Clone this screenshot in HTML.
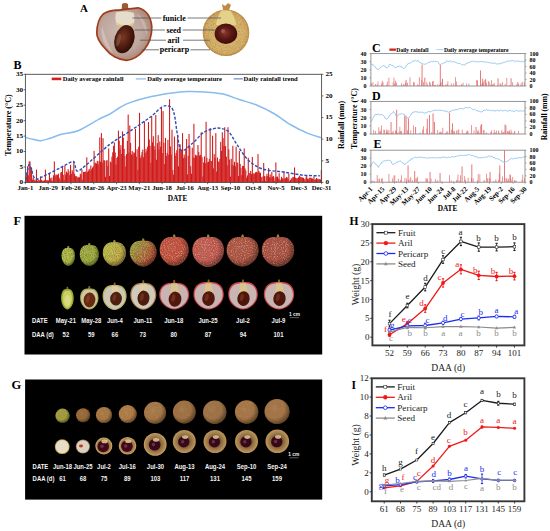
<!DOCTYPE html>
<html><head><meta charset="utf-8"><style>
html,body{margin:0;padding:0;background:#fff;}
svg{display:block;}
</style></head><body>
<svg width="550" height="531" viewBox="0 0 550 531">
<rect x="0" y="0" width="550" height="531" fill="#fff"/>
<text x="80.00" y="11.80" font-family='"Liberation Serif", serif' font-size="11" font-weight="bold" text-anchor="start" fill="#000" >A</text>
<defs>
<radialGradient id="lyFlesh" cx="0.45" cy="0.45" r="0.6">
 <stop offset="0" stop-color="#ccbab2"/><stop offset="0.65" stop-color="#bea69c"/><stop offset="1" stop-color="#a88070"/>
</radialGradient>
<radialGradient id="lySeed" cx="0.4" cy="0.45" r="0.6">
 <stop offset="0" stop-color="#7a3a22"/><stop offset="0.6" stop-color="#4e1c10"/><stop offset="1" stop-color="#2e0c06"/>
</radialGradient>
<radialGradient id="lgFlesh" cx="0.5" cy="0.5" r="0.55">
 <stop offset="0" stop-color="#dcc07a"/><stop offset="0.8" stop-color="#d6b068"/><stop offset="1" stop-color="#c49450"/>
</radialGradient>
<radialGradient id="lgSeed" cx="0.45" cy="0.45" r="0.6">
 <stop offset="0" stop-color="#8a3a30"/><stop offset="0.5" stop-color="#5a1812"/><stop offset="1" stop-color="#3a0a06"/>
</radialGradient>
</defs>
<path d="M122,4 Q125,1.8 128,4 L128.5,11.5 L121.5,11.5 Z" fill="#9a5a34"/>
<path d="M116,10.2 C124,10 130,8.5 138,7.8 C146,10 151,17 151.8,26.8 C152,36 149,44 144,50 C139,56 132,60 126.5,60.3 C118,60 110,55 105.5,49 C100,43 96.5,38 96.8,32.7 C97,24 99,18 103.2,14 C107,11.5 111,10.5 116,10.2 Z" fill="url(#lyFlesh)" stroke="#a03c1c" stroke-width="1.7"/>
<path d="M102,26 C100,36 104,47 113,53 C108,45 105,36 102,26 Z" fill="#ddd0cc" opacity="0.55"/>
<path d="M137,14 C144,18 148,26 147,36 C145,30 141,20 137,14 Z" fill="#d8c8c4" opacity="0.5"/>
<path d="M116,12.5 C121,11 129,11 133.5,13 C135,17 135,22 132.5,25.2 C127,26.5 121,26.5 117,25 C115,21 115,16 116,12.5 Z" fill="#e6dccc"/>
<path d="M117,22.5 C121,26 129,26.5 133,22.5 C133,25.5 130,27.5 125,27.5 C120.5,27.5 117.5,25.5 117,22.5 Z" fill="#dcc478"/>
<ellipse cx="124.4" cy="39.2" rx="9.8" ry="14.4" transform="rotate(17 124.4 39.2)" fill="url(#lySeed)"/>
<ellipse cx="118.6" cy="40" rx="2" ry="6.5" transform="rotate(14 118.6 40)" fill="#9a6a5a" opacity="0.45"/>
<path d="M222,4 L225,6 L228,3 L231,5 L229,10 L223,10 Z" fill="#c08a48"/>
<circle cx="226" cy="32.8" r="22.6" fill="url(#lgFlesh)" stroke="#c4944c" stroke-width="1.4" filter="url(#speck2)"/>
<path d="M221,10.5 C224,10 228,10 231,11 C233,16 236,20 236,25 L216,25 C216,20 219,15 221,10.5 Z" fill="#e8d890" opacity="0.85"/>
<ellipse cx="225.9" cy="33.8" rx="11.3" ry="10.2" fill="url(#lgSeed)"/>
<circle cx="223" cy="31" r="2" fill="#b88a80" opacity="0.5"/>
<text x="162.70" y="20.60" font-family='"Liberation Serif", serif' font-size="8" font-weight="bold" text-anchor="start" fill="#000" >funicle</text>
<line x1="132.50" y1="18.00" x2="161.50" y2="18.00" stroke="#555" stroke-width="0.8" />
<line x1="187.50" y1="18.00" x2="221.00" y2="18.00" stroke="#555" stroke-width="0.8" />
<text x="166.40" y="32.60" font-family='"Liberation Serif", serif' font-size="8" font-weight="bold" text-anchor="start" fill="#000" >seed</text>
<line x1="134.50" y1="30.00" x2="165.00" y2="30.00" stroke="#555" stroke-width="0.8" />
<line x1="182.70" y1="30.00" x2="216.50" y2="30.00" stroke="#555" stroke-width="0.8" />
<text x="167.50" y="42.80" font-family='"Liberation Serif", serif' font-size="8" font-weight="bold" text-anchor="start" fill="#000" >aril</text>
<line x1="140.00" y1="40.20" x2="166.00" y2="40.20" stroke="#555" stroke-width="0.8" />
<line x1="183.00" y1="40.20" x2="210.00" y2="40.20" stroke="#555" stroke-width="0.8" />
<text x="159.80" y="52.40" font-family='"Liberation Serif", serif' font-size="8" font-weight="bold" text-anchor="start" fill="#000" >pericarp</text>
<line x1="141.80" y1="49.80" x2="159.00" y2="49.80" stroke="#555" stroke-width="0.8" />
<line x1="190.40" y1="49.80" x2="210.00" y2="49.80" stroke="#555" stroke-width="0.8" />
<text x="13.60" y="68.70" font-family='"Liberation Serif", serif' font-size="12" font-weight="bold" text-anchor="start" fill="#000" >B</text>
<g><rect x="25.40" y="176.40" width="1.055" height="6.00" fill="#d01a1a"/><rect x="26.21" y="173.81" width="1.055" height="8.59" fill="#d01a1a"/><rect x="27.02" y="166.34" width="1.055" height="16.06" fill="#d01a1a"/><rect x="27.83" y="175.29" width="1.055" height="7.11" fill="#d01a1a"/><rect x="28.65" y="161.40" width="1.055" height="21.00" fill="#d01a1a"/><rect x="29.46" y="161.40" width="1.055" height="21.00" fill="#d01a1a"/><rect x="30.27" y="167.25" width="1.055" height="15.15" fill="#d01a1a"/><rect x="31.08" y="167.60" width="1.055" height="14.80" fill="#d01a1a"/><rect x="31.89" y="179.73" width="1.055" height="2.67" fill="#d01a1a"/><rect x="32.70" y="177.41" width="1.055" height="4.99" fill="#d01a1a"/><rect x="33.52" y="179.57" width="1.055" height="2.83" fill="#d01a1a"/><rect x="34.33" y="180.13" width="1.055" height="2.27" fill="#d01a1a"/><rect x="35.14" y="180.66" width="1.055" height="1.74" fill="#d01a1a"/><rect x="35.95" y="169.60" width="1.055" height="12.80" fill="#d01a1a"/><rect x="36.76" y="180.83" width="1.055" height="1.57" fill="#d01a1a"/><rect x="37.57" y="180.15" width="1.055" height="2.25" fill="#d01a1a"/><rect x="38.38" y="180.02" width="1.055" height="2.38" fill="#d01a1a"/><rect x="39.20" y="180.27" width="1.055" height="2.13" fill="#d01a1a"/><rect x="40.01" y="176.40" width="1.055" height="6.00" fill="#d01a1a"/><rect x="40.82" y="179.89" width="1.055" height="2.51" fill="#d01a1a"/><rect x="41.63" y="180.57" width="1.055" height="1.83" fill="#d01a1a"/><rect x="42.44" y="180.69" width="1.055" height="1.71" fill="#d01a1a"/><rect x="43.25" y="180.77" width="1.055" height="1.63" fill="#d01a1a"/><rect x="44.06" y="180.14" width="1.055" height="2.26" fill="#d01a1a"/><rect x="44.88" y="169.60" width="1.055" height="12.80" fill="#d01a1a"/><rect x="45.69" y="180.42" width="1.055" height="1.98" fill="#d01a1a"/><rect x="46.50" y="180.19" width="1.055" height="2.21" fill="#d01a1a"/><rect x="47.31" y="180.15" width="1.055" height="2.25" fill="#d01a1a"/><rect x="48.12" y="180.40" width="1.055" height="2.00" fill="#d01a1a"/><rect x="48.93" y="173.70" width="1.055" height="8.70" fill="#d01a1a"/><rect x="49.75" y="178.10" width="1.055" height="4.30" fill="#d01a1a"/><rect x="50.56" y="180.15" width="1.055" height="2.25" fill="#d01a1a"/><rect x="51.37" y="177.54" width="1.055" height="4.86" fill="#d01a1a"/><rect x="52.18" y="181.21" width="1.055" height="1.19" fill="#d01a1a"/><rect x="52.99" y="175.34" width="1.055" height="7.06" fill="#d01a1a"/><rect x="53.80" y="161.40" width="1.055" height="21.00" fill="#d01a1a"/><rect x="54.61" y="174.51" width="1.055" height="7.89" fill="#d01a1a"/><rect x="55.43" y="176.26" width="1.055" height="6.14" fill="#d01a1a"/><rect x="56.24" y="174.49" width="1.055" height="7.91" fill="#d01a1a"/><rect x="57.05" y="175.00" width="1.055" height="7.40" fill="#d01a1a"/><rect x="57.86" y="173.59" width="1.055" height="8.81" fill="#d01a1a"/><rect x="58.67" y="177.73" width="1.055" height="4.67" fill="#d01a1a"/><rect x="59.48" y="179.60" width="1.055" height="2.80" fill="#d01a1a"/><rect x="60.29" y="172.43" width="1.055" height="9.97" fill="#d01a1a"/><rect x="61.11" y="172.02" width="1.055" height="10.38" fill="#d01a1a"/><rect x="61.92" y="166.80" width="1.055" height="15.60" fill="#d01a1a"/><rect x="62.73" y="174.77" width="1.055" height="7.63" fill="#d01a1a"/><rect x="63.54" y="179.79" width="1.055" height="2.61" fill="#d01a1a"/><rect x="64.35" y="165.50" width="1.055" height="16.90" fill="#d01a1a"/><rect x="65.16" y="174.59" width="1.055" height="7.81" fill="#d01a1a"/><rect x="65.98" y="171.62" width="1.055" height="10.78" fill="#d01a1a"/><rect x="66.79" y="172.97" width="1.055" height="9.43" fill="#d01a1a"/><rect x="67.60" y="169.16" width="1.055" height="13.24" fill="#d01a1a"/><rect x="68.41" y="171.23" width="1.055" height="11.17" fill="#d01a1a"/><rect x="69.22" y="175.25" width="1.055" height="7.15" fill="#d01a1a"/><rect x="70.03" y="164.80" width="1.055" height="17.60" fill="#d01a1a"/><rect x="70.84" y="173.71" width="1.055" height="8.69" fill="#d01a1a"/><rect x="71.66" y="170.16" width="1.055" height="12.24" fill="#d01a1a"/><rect x="72.47" y="172.03" width="1.055" height="10.37" fill="#d01a1a"/><rect x="73.28" y="162.00" width="1.055" height="20.40" fill="#d01a1a"/><rect x="74.09" y="173.87" width="1.055" height="8.53" fill="#d01a1a"/><rect x="74.90" y="176.23" width="1.055" height="6.17" fill="#d01a1a"/><rect x="75.71" y="175.96" width="1.055" height="6.44" fill="#d01a1a"/><rect x="76.52" y="177.97" width="1.055" height="4.43" fill="#d01a1a"/><rect x="77.34" y="176.76" width="1.055" height="5.64" fill="#d01a1a"/><rect x="78.15" y="177.38" width="1.055" height="5.02" fill="#d01a1a"/><rect x="78.96" y="177.30" width="1.055" height="5.10" fill="#d01a1a"/><rect x="79.77" y="173.75" width="1.055" height="8.65" fill="#d01a1a"/><rect x="80.58" y="174.40" width="1.055" height="8.00" fill="#d01a1a"/><rect x="81.39" y="169.60" width="1.055" height="12.80" fill="#d01a1a"/><rect x="82.21" y="179.63" width="1.055" height="2.77" fill="#d01a1a"/><rect x="83.02" y="171.88" width="1.055" height="10.52" fill="#d01a1a"/><rect x="83.83" y="171.89" width="1.055" height="10.51" fill="#d01a1a"/><rect x="84.64" y="171.98" width="1.055" height="10.42" fill="#d01a1a"/><rect x="85.45" y="171.30" width="1.055" height="11.10" fill="#d01a1a"/><rect x="86.26" y="157.30" width="1.055" height="25.10" fill="#d01a1a"/><rect x="87.07" y="172.08" width="1.055" height="10.32" fill="#d01a1a"/><rect x="87.89" y="170.61" width="1.055" height="11.79" fill="#d01a1a"/><rect x="88.70" y="168.78" width="1.055" height="13.62" fill="#d01a1a"/><rect x="89.51" y="170.57" width="1.055" height="11.83" fill="#d01a1a"/><rect x="90.32" y="165.50" width="1.055" height="16.90" fill="#d01a1a"/><rect x="91.13" y="169.34" width="1.055" height="13.06" fill="#d01a1a"/><rect x="91.94" y="167.62" width="1.055" height="14.78" fill="#d01a1a"/><rect x="92.76" y="166.38" width="1.055" height="16.02" fill="#d01a1a"/><rect x="93.57" y="150.90" width="1.055" height="31.50" fill="#d01a1a"/><rect x="94.38" y="163.38" width="1.055" height="19.02" fill="#d01a1a"/><rect x="95.19" y="162.62" width="1.055" height="19.78" fill="#d01a1a"/><rect x="96.00" y="163.64" width="1.055" height="18.76" fill="#d01a1a"/><rect x="96.81" y="160.85" width="1.055" height="21.55" fill="#d01a1a"/><rect x="97.62" y="164.45" width="1.055" height="17.95" fill="#d01a1a"/><rect x="98.44" y="161.22" width="1.055" height="21.18" fill="#d01a1a"/><rect x="99.25" y="137.40" width="1.055" height="45.00" fill="#d01a1a"/><rect x="100.06" y="161.70" width="1.055" height="20.70" fill="#d01a1a"/><rect x="100.87" y="133.10" width="1.055" height="49.30" fill="#d01a1a"/><rect x="101.68" y="162.60" width="1.055" height="19.80" fill="#d01a1a"/><rect x="102.49" y="138.20" width="1.055" height="44.20" fill="#d01a1a"/><rect x="103.30" y="160.15" width="1.055" height="22.25" fill="#d01a1a"/><rect x="104.12" y="160.46" width="1.055" height="21.94" fill="#d01a1a"/><rect x="104.93" y="176.88" width="1.055" height="5.52" fill="#d01a1a"/><rect x="105.74" y="160.71" width="1.055" height="21.69" fill="#d01a1a"/><rect x="106.55" y="160.09" width="1.055" height="22.31" fill="#d01a1a"/><rect x="107.36" y="166.10" width="1.055" height="16.30" fill="#d01a1a"/><rect x="108.17" y="148.40" width="1.055" height="34.00" fill="#d01a1a"/><rect x="108.99" y="176.02" width="1.055" height="6.38" fill="#d01a1a"/><rect x="109.80" y="161.50" width="1.055" height="20.90" fill="#d01a1a"/><rect x="110.61" y="162.51" width="1.055" height="19.89" fill="#d01a1a"/><rect x="111.42" y="156.60" width="1.055" height="25.80" fill="#d01a1a"/><rect x="112.23" y="152.29" width="1.055" height="30.11" fill="#d01a1a"/><rect x="113.04" y="146.09" width="1.055" height="36.31" fill="#d01a1a"/><rect x="113.85" y="142.50" width="1.055" height="39.90" fill="#d01a1a"/><rect x="114.67" y="152.50" width="1.055" height="29.90" fill="#d01a1a"/><rect x="115.48" y="164.54" width="1.055" height="17.86" fill="#d01a1a"/><rect x="116.29" y="157.97" width="1.055" height="24.43" fill="#d01a1a"/><rect x="117.10" y="156.61" width="1.055" height="25.79" fill="#d01a1a"/><rect x="117.91" y="130.60" width="1.055" height="51.80" fill="#d01a1a"/><rect x="118.72" y="140.57" width="1.055" height="41.83" fill="#d01a1a"/><rect x="119.53" y="149.69" width="1.055" height="32.71" fill="#d01a1a"/><rect x="120.35" y="145.18" width="1.055" height="37.22" fill="#d01a1a"/><rect x="121.16" y="153.92" width="1.055" height="28.48" fill="#d01a1a"/><rect x="121.97" y="131.40" width="1.055" height="51.00" fill="#d01a1a"/><rect x="122.78" y="137.51" width="1.055" height="44.89" fill="#d01a1a"/><rect x="123.59" y="148.78" width="1.055" height="33.62" fill="#d01a1a"/><rect x="124.40" y="155.88" width="1.055" height="26.52" fill="#d01a1a"/><rect x="125.22" y="166.49" width="1.055" height="15.91" fill="#d01a1a"/><rect x="126.03" y="154.06" width="1.055" height="28.34" fill="#d01a1a"/><rect x="126.84" y="140.87" width="1.055" height="41.53" fill="#d01a1a"/><rect x="127.65" y="114.50" width="1.055" height="67.90" fill="#d01a1a"/><rect x="128.46" y="152.65" width="1.055" height="29.75" fill="#d01a1a"/><rect x="129.27" y="125.50" width="1.055" height="56.90" fill="#d01a1a"/><rect x="130.08" y="142.94" width="1.055" height="39.46" fill="#d01a1a"/><rect x="130.90" y="154.54" width="1.055" height="27.86" fill="#d01a1a"/><rect x="131.71" y="151.08" width="1.055" height="31.32" fill="#d01a1a"/><rect x="132.52" y="154.47" width="1.055" height="27.93" fill="#d01a1a"/><rect x="133.33" y="152.17" width="1.055" height="30.23" fill="#d01a1a"/><rect x="134.14" y="152.91" width="1.055" height="29.49" fill="#d01a1a"/><rect x="134.95" y="128.90" width="1.055" height="53.50" fill="#d01a1a"/><rect x="135.76" y="156.71" width="1.055" height="25.69" fill="#d01a1a"/><rect x="136.58" y="149.21" width="1.055" height="33.19" fill="#d01a1a"/><rect x="137.39" y="169.92" width="1.055" height="12.48" fill="#d01a1a"/><rect x="138.20" y="146.64" width="1.055" height="35.76" fill="#d01a1a"/><rect x="139.01" y="112.80" width="1.055" height="69.60" fill="#d01a1a"/><rect x="139.82" y="157.94" width="1.055" height="24.46" fill="#d01a1a"/><rect x="140.63" y="155.41" width="1.055" height="26.99" fill="#d01a1a"/><rect x="141.45" y="152.13" width="1.055" height="30.27" fill="#d01a1a"/><rect x="142.26" y="149.62" width="1.055" height="32.78" fill="#d01a1a"/><rect x="143.07" y="157.25" width="1.055" height="25.15" fill="#d01a1a"/><rect x="143.88" y="121.30" width="1.055" height="61.10" fill="#d01a1a"/><rect x="144.69" y="152.73" width="1.055" height="29.67" fill="#d01a1a"/><rect x="145.50" y="148.86" width="1.055" height="33.54" fill="#d01a1a"/><rect x="146.31" y="151.28" width="1.055" height="31.12" fill="#d01a1a"/><rect x="147.13" y="146.64" width="1.055" height="35.76" fill="#d01a1a"/><rect x="147.94" y="122.10" width="1.055" height="60.30" fill="#d01a1a"/><rect x="148.75" y="139.45" width="1.055" height="42.95" fill="#d01a1a"/><rect x="149.56" y="145.76" width="1.055" height="36.64" fill="#d01a1a"/><rect x="150.37" y="162.85" width="1.055" height="19.55" fill="#d01a1a"/><rect x="151.18" y="116.20" width="1.055" height="66.20" fill="#d01a1a"/><rect x="152.00" y="142.36" width="1.055" height="40.04" fill="#d01a1a"/><rect x="152.81" y="136.19" width="1.055" height="46.21" fill="#d01a1a"/><rect x="153.62" y="146.06" width="1.055" height="36.34" fill="#d01a1a"/><rect x="154.43" y="149.56" width="1.055" height="32.84" fill="#d01a1a"/><rect x="155.24" y="115.00" width="1.055" height="67.40" fill="#d01a1a"/><rect x="156.05" y="159.79" width="1.055" height="22.61" fill="#d01a1a"/><rect x="156.86" y="143.11" width="1.055" height="39.29" fill="#d01a1a"/><rect x="157.68" y="135.15" width="1.055" height="47.25" fill="#d01a1a"/><rect x="158.49" y="149.51" width="1.055" height="32.89" fill="#d01a1a"/><rect x="159.30" y="141.52" width="1.055" height="40.88" fill="#d01a1a"/><rect x="160.11" y="146.69" width="1.055" height="35.71" fill="#d01a1a"/><rect x="160.92" y="107.70" width="1.055" height="74.70" fill="#d01a1a"/><rect x="161.73" y="153.12" width="1.055" height="29.28" fill="#d01a1a"/><rect x="162.54" y="111.10" width="1.055" height="71.30" fill="#d01a1a"/><rect x="163.36" y="142.67" width="1.055" height="39.73" fill="#d01a1a"/><rect x="164.17" y="163.91" width="1.055" height="18.49" fill="#d01a1a"/><rect x="164.98" y="137.88" width="1.055" height="44.52" fill="#d01a1a"/><rect x="165.79" y="155.91" width="1.055" height="26.49" fill="#d01a1a"/><rect x="166.60" y="152.92" width="1.055" height="29.48" fill="#d01a1a"/><rect x="167.41" y="139.76" width="1.055" height="42.64" fill="#d01a1a"/><rect x="168.23" y="154.70" width="1.055" height="27.70" fill="#d01a1a"/><rect x="169.04" y="99.20" width="1.055" height="83.20" fill="#d01a1a"/><rect x="169.85" y="146.41" width="1.055" height="35.99" fill="#d01a1a"/><rect x="170.66" y="154.58" width="1.055" height="27.82" fill="#d01a1a"/><rect x="171.47" y="129.70" width="1.055" height="52.70" fill="#d01a1a"/><rect x="172.28" y="169.97" width="1.055" height="12.43" fill="#d01a1a"/><rect x="173.09" y="174.55" width="1.055" height="7.85" fill="#d01a1a"/><rect x="173.91" y="136.50" width="1.055" height="45.90" fill="#d01a1a"/><rect x="174.72" y="155.66" width="1.055" height="26.74" fill="#d01a1a"/><rect x="175.53" y="152.79" width="1.055" height="29.61" fill="#d01a1a"/><rect x="176.34" y="150.07" width="1.055" height="32.33" fill="#d01a1a"/><rect x="177.15" y="134.80" width="1.055" height="47.60" fill="#d01a1a"/><rect x="177.96" y="166.31" width="1.055" height="16.09" fill="#d01a1a"/><rect x="178.77" y="148.60" width="1.055" height="33.80" fill="#d01a1a"/><rect x="179.59" y="144.33" width="1.055" height="38.07" fill="#d01a1a"/><rect x="180.40" y="149.42" width="1.055" height="32.98" fill="#d01a1a"/><rect x="181.21" y="150.85" width="1.055" height="31.55" fill="#d01a1a"/><rect x="182.02" y="133.10" width="1.055" height="49.30" fill="#d01a1a"/><rect x="182.83" y="158.09" width="1.055" height="24.31" fill="#d01a1a"/><rect x="183.64" y="154.58" width="1.055" height="27.82" fill="#d01a1a"/><rect x="184.46" y="157.43" width="1.055" height="24.97" fill="#d01a1a"/><rect x="185.27" y="149.71" width="1.055" height="32.69" fill="#d01a1a"/><rect x="186.08" y="139.00" width="1.055" height="43.40" fill="#d01a1a"/><rect x="186.89" y="174.35" width="1.055" height="8.05" fill="#d01a1a"/><rect x="187.70" y="155.83" width="1.055" height="26.57" fill="#d01a1a"/><rect x="188.51" y="134.00" width="1.055" height="48.40" fill="#d01a1a"/><rect x="189.32" y="146.34" width="1.055" height="36.06" fill="#d01a1a"/><rect x="190.14" y="166.21" width="1.055" height="16.19" fill="#d01a1a"/><rect x="190.95" y="173.75" width="1.055" height="8.65" fill="#d01a1a"/><rect x="191.76" y="147.74" width="1.055" height="34.66" fill="#d01a1a"/><rect x="192.57" y="157.49" width="1.055" height="24.91" fill="#d01a1a"/><rect x="193.38" y="123.80" width="1.055" height="58.60" fill="#d01a1a"/><rect x="194.19" y="157.80" width="1.055" height="24.60" fill="#d01a1a"/><rect x="195.00" y="154.77" width="1.055" height="27.63" fill="#d01a1a"/><rect x="195.82" y="155.49" width="1.055" height="26.91" fill="#d01a1a"/><rect x="196.63" y="155.64" width="1.055" height="26.76" fill="#d01a1a"/><rect x="197.44" y="145.00" width="1.055" height="37.40" fill="#d01a1a"/><rect x="198.25" y="151.99" width="1.055" height="30.41" fill="#d01a1a"/><rect x="199.06" y="155.59" width="1.055" height="26.81" fill="#d01a1a"/><rect x="199.87" y="154.79" width="1.055" height="27.61" fill="#d01a1a"/><rect x="200.69" y="132.30" width="1.055" height="50.10" fill="#d01a1a"/><rect x="201.50" y="157.11" width="1.055" height="25.29" fill="#d01a1a"/><rect x="202.31" y="176.43" width="1.055" height="5.97" fill="#d01a1a"/><rect x="203.12" y="162.41" width="1.055" height="19.99" fill="#d01a1a"/><rect x="203.93" y="156.47" width="1.055" height="25.93" fill="#d01a1a"/><rect x="204.74" y="163.24" width="1.055" height="19.16" fill="#d01a1a"/><rect x="205.55" y="121.80" width="1.055" height="60.60" fill="#d01a1a"/><rect x="206.37" y="157.75" width="1.055" height="24.65" fill="#d01a1a"/><rect x="207.18" y="162.34" width="1.055" height="20.06" fill="#d01a1a"/><rect x="207.99" y="161.70" width="1.055" height="20.70" fill="#d01a1a"/><rect x="208.80" y="158.91" width="1.055" height="23.49" fill="#d01a1a"/><rect x="209.61" y="128.00" width="1.055" height="54.40" fill="#d01a1a"/><rect x="210.42" y="160.91" width="1.055" height="21.49" fill="#d01a1a"/><rect x="211.24" y="161.08" width="1.055" height="21.32" fill="#d01a1a"/><rect x="212.05" y="135.70" width="1.055" height="46.70" fill="#d01a1a"/><rect x="212.86" y="168.39" width="1.055" height="14.01" fill="#d01a1a"/><rect x="213.67" y="154.06" width="1.055" height="28.34" fill="#d01a1a"/><rect x="214.48" y="157.62" width="1.055" height="24.78" fill="#d01a1a"/><rect x="215.29" y="133.10" width="1.055" height="49.30" fill="#d01a1a"/><rect x="216.10" y="171.55" width="1.055" height="10.85" fill="#d01a1a"/><rect x="216.92" y="157.50" width="1.055" height="24.90" fill="#d01a1a"/><rect x="217.73" y="161.64" width="1.055" height="20.76" fill="#d01a1a"/><rect x="218.54" y="161.66" width="1.055" height="20.74" fill="#d01a1a"/><rect x="219.35" y="159.00" width="1.055" height="23.40" fill="#d01a1a"/><rect x="220.16" y="141.80" width="1.055" height="40.60" fill="#d01a1a"/><rect x="220.97" y="150.93" width="1.055" height="31.47" fill="#d01a1a"/><rect x="221.78" y="132.30" width="1.055" height="50.10" fill="#d01a1a"/><rect x="222.60" y="138.07" width="1.055" height="44.33" fill="#d01a1a"/><rect x="223.41" y="145.97" width="1.055" height="36.43" fill="#d01a1a"/><rect x="224.22" y="127.20" width="1.055" height="55.20" fill="#d01a1a"/><rect x="225.03" y="146.10" width="1.055" height="36.30" fill="#d01a1a"/><rect x="225.84" y="156.64" width="1.055" height="25.76" fill="#d01a1a"/><rect x="226.65" y="165.20" width="1.055" height="17.20" fill="#d01a1a"/><rect x="227.47" y="127.20" width="1.055" height="55.20" fill="#d01a1a"/><rect x="228.28" y="149.45" width="1.055" height="32.95" fill="#d01a1a"/><rect x="229.09" y="159.59" width="1.055" height="22.81" fill="#d01a1a"/><rect x="229.90" y="176.57" width="1.055" height="5.83" fill="#d01a1a"/><rect x="230.71" y="158.80" width="1.055" height="23.60" fill="#d01a1a"/><rect x="231.52" y="164.66" width="1.055" height="17.74" fill="#d01a1a"/><rect x="232.33" y="145.80" width="1.055" height="36.60" fill="#d01a1a"/><rect x="233.15" y="165.39" width="1.055" height="17.01" fill="#d01a1a"/><rect x="233.96" y="161.85" width="1.055" height="20.55" fill="#d01a1a"/><rect x="234.77" y="166.33" width="1.055" height="16.07" fill="#d01a1a"/><rect x="235.58" y="146.70" width="1.055" height="35.70" fill="#d01a1a"/><rect x="236.39" y="162.41" width="1.055" height="19.99" fill="#d01a1a"/><rect x="237.20" y="162.75" width="1.055" height="19.65" fill="#d01a1a"/><rect x="238.01" y="175.97" width="1.055" height="6.43" fill="#d01a1a"/><rect x="238.83" y="150.90" width="1.055" height="31.50" fill="#d01a1a"/><rect x="239.64" y="163.85" width="1.055" height="18.55" fill="#d01a1a"/><rect x="240.45" y="167.89" width="1.055" height="14.51" fill="#d01a1a"/><rect x="241.26" y="175.17" width="1.055" height="7.23" fill="#d01a1a"/><rect x="242.07" y="165.86" width="1.055" height="16.54" fill="#d01a1a"/><rect x="242.88" y="165.98" width="1.055" height="16.42" fill="#d01a1a"/><rect x="243.70" y="148.40" width="1.055" height="34.00" fill="#d01a1a"/><rect x="244.51" y="168.34" width="1.055" height="14.06" fill="#d01a1a"/><rect x="245.32" y="170.47" width="1.055" height="11.93" fill="#d01a1a"/><rect x="246.13" y="177.79" width="1.055" height="4.61" fill="#d01a1a"/><rect x="246.94" y="175.44" width="1.055" height="6.96" fill="#d01a1a"/><rect x="247.75" y="157.70" width="1.055" height="24.70" fill="#d01a1a"/><rect x="248.56" y="173.01" width="1.055" height="9.39" fill="#d01a1a"/><rect x="249.38" y="173.37" width="1.055" height="9.03" fill="#d01a1a"/><rect x="250.19" y="170.88" width="1.055" height="11.52" fill="#d01a1a"/><rect x="251.00" y="174.14" width="1.055" height="8.26" fill="#d01a1a"/><rect x="251.81" y="156.90" width="1.055" height="25.50" fill="#d01a1a"/><rect x="252.62" y="173.17" width="1.055" height="9.23" fill="#d01a1a"/><rect x="253.43" y="174.33" width="1.055" height="8.07" fill="#d01a1a"/><rect x="254.24" y="173.33" width="1.055" height="9.07" fill="#d01a1a"/><rect x="255.06" y="172.22" width="1.055" height="10.18" fill="#d01a1a"/><rect x="255.87" y="171.90" width="1.055" height="10.50" fill="#d01a1a"/><rect x="256.68" y="172.48" width="1.055" height="9.92" fill="#d01a1a"/><rect x="257.49" y="154.10" width="1.055" height="28.30" fill="#d01a1a"/><rect x="258.30" y="170.99" width="1.055" height="11.41" fill="#d01a1a"/><rect x="259.11" y="172.41" width="1.055" height="9.99" fill="#d01a1a"/><rect x="259.93" y="172.74" width="1.055" height="9.66" fill="#d01a1a"/><rect x="260.74" y="176.96" width="1.055" height="5.44" fill="#d01a1a"/><rect x="261.55" y="180.93" width="1.055" height="1.47" fill="#d01a1a"/><rect x="262.36" y="176.46" width="1.055" height="5.94" fill="#d01a1a"/><rect x="263.17" y="163.00" width="1.055" height="19.40" fill="#d01a1a"/><rect x="263.98" y="176.14" width="1.055" height="6.26" fill="#d01a1a"/><rect x="264.79" y="180.92" width="1.055" height="1.48" fill="#d01a1a"/><rect x="265.61" y="176.19" width="1.055" height="6.21" fill="#d01a1a"/><rect x="266.42" y="173.70" width="1.055" height="8.70" fill="#d01a1a"/><rect x="267.23" y="176.08" width="1.055" height="6.32" fill="#d01a1a"/><rect x="268.04" y="168.10" width="1.055" height="14.30" fill="#d01a1a"/><rect x="268.85" y="177.15" width="1.055" height="5.25" fill="#d01a1a"/><rect x="269.66" y="174.47" width="1.055" height="7.93" fill="#d01a1a"/><rect x="270.48" y="177.30" width="1.055" height="5.10" fill="#d01a1a"/><rect x="271.29" y="171.90" width="1.055" height="10.50" fill="#d01a1a"/><rect x="272.10" y="176.67" width="1.055" height="5.73" fill="#d01a1a"/><rect x="272.91" y="175.92" width="1.055" height="6.48" fill="#d01a1a"/><rect x="273.72" y="180.57" width="1.055" height="1.83" fill="#d01a1a"/><rect x="274.53" y="177.47" width="1.055" height="4.93" fill="#d01a1a"/><rect x="275.34" y="162.40" width="1.055" height="20.00" fill="#d01a1a"/><rect x="276.16" y="176.68" width="1.055" height="5.72" fill="#d01a1a"/><rect x="276.97" y="176.59" width="1.055" height="5.81" fill="#d01a1a"/><rect x="277.78" y="178.72" width="1.055" height="3.68" fill="#d01a1a"/><rect x="278.59" y="173.20" width="1.055" height="9.20" fill="#d01a1a"/><rect x="279.40" y="179.50" width="1.055" height="2.90" fill="#d01a1a"/><rect x="280.21" y="180.29" width="1.055" height="2.11" fill="#d01a1a"/><rect x="281.02" y="176.81" width="1.055" height="5.59" fill="#d01a1a"/><rect x="281.84" y="178.44" width="1.055" height="3.96" fill="#d01a1a"/><rect x="282.65" y="178.48" width="1.055" height="3.92" fill="#d01a1a"/><rect x="283.46" y="171.30" width="1.055" height="11.10" fill="#d01a1a"/><rect x="284.27" y="178.38" width="1.055" height="4.02" fill="#d01a1a"/><rect x="285.08" y="178.36" width="1.055" height="4.04" fill="#d01a1a"/><rect x="285.89" y="176.91" width="1.055" height="5.49" fill="#d01a1a"/><rect x="286.71" y="177.46" width="1.055" height="4.94" fill="#d01a1a"/><rect x="287.52" y="178.62" width="1.055" height="3.78" fill="#d01a1a"/><rect x="288.33" y="173.80" width="1.055" height="8.60" fill="#d01a1a"/><rect x="289.14" y="181.09" width="1.055" height="1.31" fill="#d01a1a"/><rect x="289.95" y="180.01" width="1.055" height="2.39" fill="#d01a1a"/><rect x="290.76" y="178.48" width="1.055" height="3.92" fill="#d01a1a"/><rect x="291.57" y="178.18" width="1.055" height="4.22" fill="#d01a1a"/><rect x="292.39" y="176.86" width="1.055" height="5.54" fill="#d01a1a"/><rect x="293.20" y="177.01" width="1.055" height="5.39" fill="#d01a1a"/><rect x="294.01" y="167.50" width="1.055" height="14.90" fill="#d01a1a"/><rect x="294.82" y="177.53" width="1.055" height="4.87" fill="#d01a1a"/><rect x="295.63" y="178.02" width="1.055" height="4.38" fill="#d01a1a"/><rect x="296.44" y="178.90" width="1.055" height="3.50" fill="#d01a1a"/><rect x="297.25" y="178.03" width="1.055" height="4.37" fill="#d01a1a"/><rect x="298.07" y="177.25" width="1.055" height="5.15" fill="#d01a1a"/><rect x="298.88" y="175.70" width="1.055" height="6.70" fill="#d01a1a"/><rect x="299.69" y="176.71" width="1.055" height="5.69" fill="#d01a1a"/><rect x="300.50" y="177.39" width="1.055" height="5.01" fill="#d01a1a"/><rect x="301.31" y="177.14" width="1.055" height="5.26" fill="#d01a1a"/><rect x="302.12" y="177.69" width="1.055" height="4.71" fill="#d01a1a"/><rect x="302.94" y="177.91" width="1.055" height="4.49" fill="#d01a1a"/><rect x="303.75" y="178.99" width="1.055" height="3.41" fill="#d01a1a"/><rect x="304.56" y="180.84" width="1.055" height="1.56" fill="#d01a1a"/><rect x="305.37" y="177.53" width="1.055" height="4.87" fill="#d01a1a"/><rect x="306.18" y="175.70" width="1.055" height="6.70" fill="#d01a1a"/><rect x="306.99" y="178.72" width="1.055" height="3.68" fill="#d01a1a"/><rect x="307.80" y="179.21" width="1.055" height="3.19" fill="#d01a1a"/><rect x="308.62" y="177.97" width="1.055" height="4.43" fill="#d01a1a"/><rect x="309.43" y="177.54" width="1.055" height="4.86" fill="#d01a1a"/><rect x="310.24" y="177.73" width="1.055" height="4.67" fill="#d01a1a"/><rect x="311.05" y="178.26" width="1.055" height="4.14" fill="#d01a1a"/><rect x="311.86" y="178.51" width="1.055" height="3.89" fill="#d01a1a"/><rect x="312.67" y="179.12" width="1.055" height="3.28" fill="#d01a1a"/><rect x="313.48" y="176.40" width="1.055" height="6.00" fill="#d01a1a"/><rect x="314.30" y="179.67" width="1.055" height="2.73" fill="#d01a1a"/><rect x="315.11" y="179.37" width="1.055" height="3.03" fill="#d01a1a"/><rect x="315.92" y="178.05" width="1.055" height="4.35" fill="#d01a1a"/><rect x="316.73" y="178.64" width="1.055" height="3.76" fill="#d01a1a"/><rect x="317.54" y="179.63" width="1.055" height="2.77" fill="#d01a1a"/><rect x="318.35" y="178.86" width="1.055" height="3.54" fill="#d01a1a"/><rect x="319.17" y="179.24" width="1.055" height="3.16" fill="#d01a1a"/><rect x="319.98" y="179.57" width="1.055" height="2.83" fill="#d01a1a"/><rect x="320.79" y="170.00" width="1.055" height="12.40" fill="#d01a1a"/></g>
<path d="M25.80,137.50 C27.00,137.80 30.52,138.77 33.00,139.30 C35.48,139.83 37.87,140.87 40.70,140.70 C43.53,140.53 46.55,139.38 50.00,138.30 C53.45,137.22 56.73,135.47 61.40,134.20 C66.07,132.93 71.78,133.18 78.00,130.70 C84.22,128.22 93.37,122.08 98.70,119.30 C104.03,116.52 106.45,115.97 110.00,114.00 C113.55,112.03 116.55,109.43 120.00,107.50 C123.45,105.57 125.47,104.22 130.70,102.40 C135.93,100.58 144.52,98.17 151.40,96.60 C158.28,95.03 166.02,93.83 172.00,93.00 C177.98,92.17 181.87,91.77 187.30,91.60 C192.73,91.43 198.83,91.63 204.60,92.00 C210.37,92.37 216.13,92.55 221.90,93.80 C227.67,95.05 233.43,97.63 239.20,99.50 C244.97,101.37 250.73,102.67 256.50,105.00 C262.27,107.33 268.03,110.17 273.80,113.50 C279.57,116.83 285.33,121.65 291.10,125.00 C296.87,128.35 303.38,131.50 308.40,133.60 C313.42,135.70 319.07,136.93 321.20,137.60" fill="none" stroke="#86bcee" stroke-width="1.5"/>
<path d="M25.80,180.00 C26.08,178.33 26.92,172.58 27.50,170.00 C28.08,167.42 28.63,164.50 29.30,164.50 C29.97,164.50 30.47,167.58 31.50,170.00 C32.53,172.42 33.25,178.08 35.50,179.00 C37.75,179.92 40.92,177.33 45.00,175.50 C49.08,173.67 55.53,170.28 60.00,168.00 C64.47,165.72 69.38,162.63 71.80,161.80 C74.22,160.97 73.63,161.47 74.50,163.00 C75.37,164.53 75.25,170.50 77.00,171.00 C78.75,171.50 79.50,170.47 85.00,166.00 C90.50,161.53 102.38,150.08 110.00,144.20 C117.62,138.32 123.80,135.37 130.70,130.70 C137.60,126.03 146.22,120.15 151.40,116.20 C156.58,112.25 159.03,108.72 161.80,107.00 C164.57,105.28 166.22,105.57 168.00,105.90 C169.78,106.23 171.33,106.98 172.50,109.00 C173.67,111.02 174.20,113.87 175.00,118.00 C175.80,122.13 176.23,128.40 177.30,133.80 C178.37,139.20 178.82,148.87 181.40,150.40 C183.98,151.93 189.17,145.93 192.80,143.00 C196.43,140.07 199.75,135.18 203.20,132.80 C206.65,130.42 210.62,129.45 213.50,128.70 C216.38,127.95 217.95,127.77 220.50,128.30 C223.05,128.83 226.02,129.13 228.80,131.90 C231.58,134.67 234.05,140.30 237.20,144.90 C240.35,149.50 243.52,155.50 247.70,159.50 C251.88,163.50 256.38,166.82 262.30,168.90 C268.22,170.98 276.25,170.95 283.20,172.00 C290.15,173.05 297.90,174.57 304.00,175.20 C310.10,175.83 317.17,175.70 319.80,175.80" fill="none" stroke="#2a50b4" stroke-width="1.4" stroke-dasharray="3,1.6"/>
<rect x="25.4" y="74.3" width="296.20000000000005" height="108.10000000000001" fill="none" stroke="#4a4a4a" stroke-width="0.9"/>
<line x1="23.60" y1="182.40" x2="25.40" y2="182.40" stroke="#4a4a4a" stroke-width="0.8" />
<text x="23.00" y="184.30" font-family='"Liberation Serif", serif' font-size="7.1" font-weight="bold" text-anchor="end" fill="#000" >0</text>
<line x1="23.60" y1="166.96" x2="25.40" y2="166.96" stroke="#4a4a4a" stroke-width="0.8" />
<text x="23.00" y="168.86" font-family='"Liberation Serif", serif' font-size="7.1" font-weight="bold" text-anchor="end" fill="#000" >5</text>
<line x1="23.60" y1="151.51" x2="25.40" y2="151.51" stroke="#4a4a4a" stroke-width="0.8" />
<text x="23.00" y="153.41" font-family='"Liberation Serif", serif' font-size="7.1" font-weight="bold" text-anchor="end" fill="#000" >10</text>
<line x1="23.60" y1="136.07" x2="25.40" y2="136.07" stroke="#4a4a4a" stroke-width="0.8" />
<text x="23.00" y="137.97" font-family='"Liberation Serif", serif' font-size="7.1" font-weight="bold" text-anchor="end" fill="#000" >15</text>
<line x1="23.60" y1="120.63" x2="25.40" y2="120.63" stroke="#4a4a4a" stroke-width="0.8" />
<text x="23.00" y="122.53" font-family='"Liberation Serif", serif' font-size="7.1" font-weight="bold" text-anchor="end" fill="#000" >20</text>
<line x1="23.60" y1="105.19" x2="25.40" y2="105.19" stroke="#4a4a4a" stroke-width="0.8" />
<text x="23.00" y="107.09" font-family='"Liberation Serif", serif' font-size="7.1" font-weight="bold" text-anchor="end" fill="#000" >25</text>
<line x1="23.60" y1="89.74" x2="25.40" y2="89.74" stroke="#4a4a4a" stroke-width="0.8" />
<text x="23.00" y="91.64" font-family='"Liberation Serif", serif' font-size="7.1" font-weight="bold" text-anchor="end" fill="#000" >30</text>
<line x1="23.60" y1="74.30" x2="25.40" y2="74.30" stroke="#4a4a4a" stroke-width="0.8" />
<text x="23.00" y="76.20" font-family='"Liberation Serif", serif' font-size="7.1" font-weight="bold" text-anchor="end" fill="#000" >35</text>
<line x1="321.60" y1="182.40" x2="323.40" y2="182.40" stroke="#4a4a4a" stroke-width="0.8" />
<text x="325.40" y="184.30" font-family='"Liberation Serif", serif' font-size="7.1" font-weight="bold" text-anchor="start" fill="#000" >0</text>
<line x1="321.60" y1="160.78" x2="323.40" y2="160.78" stroke="#4a4a4a" stroke-width="0.8" />
<text x="325.40" y="162.68" font-family='"Liberation Serif", serif' font-size="7.1" font-weight="bold" text-anchor="start" fill="#000" >5</text>
<line x1="321.60" y1="139.16" x2="323.40" y2="139.16" stroke="#4a4a4a" stroke-width="0.8" />
<text x="325.40" y="141.06" font-family='"Liberation Serif", serif' font-size="7.1" font-weight="bold" text-anchor="start" fill="#000" >10</text>
<line x1="321.60" y1="117.54" x2="323.40" y2="117.54" stroke="#4a4a4a" stroke-width="0.8" />
<text x="325.40" y="119.44" font-family='"Liberation Serif", serif' font-size="7.1" font-weight="bold" text-anchor="start" fill="#000" >15</text>
<line x1="321.60" y1="95.92" x2="323.40" y2="95.92" stroke="#4a4a4a" stroke-width="0.8" />
<text x="325.40" y="97.82" font-family='"Liberation Serif", serif' font-size="7.1" font-weight="bold" text-anchor="start" fill="#000" >20</text>
<line x1="321.60" y1="74.30" x2="323.40" y2="74.30" stroke="#4a4a4a" stroke-width="0.8" />
<text x="325.40" y="76.20" font-family='"Liberation Serif", serif' font-size="7.1" font-weight="bold" text-anchor="start" fill="#000" >25</text>
<line x1="25.40" y1="182.40" x2="25.40" y2="184.20" stroke="#4a4a4a" stroke-width="0.8" />
<text x="25.40" y="189.50" font-family='"Liberation Serif", serif' font-size="6.7" font-weight="bold" text-anchor="middle" fill="#000" >Jan-1</text>
<line x1="48.18" y1="182.40" x2="48.18" y2="184.20" stroke="#4a4a4a" stroke-width="0.8" />
<text x="48.18" y="189.50" font-family='"Liberation Serif", serif' font-size="6.7" font-weight="bold" text-anchor="middle" fill="#000" >Jan-29</text>
<line x1="70.97" y1="182.40" x2="70.97" y2="184.20" stroke="#4a4a4a" stroke-width="0.8" />
<text x="70.97" y="189.50" font-family='"Liberation Serif", serif' font-size="6.7" font-weight="bold" text-anchor="middle" fill="#000" >Feb-26</text>
<line x1="93.75" y1="182.40" x2="93.75" y2="184.20" stroke="#4a4a4a" stroke-width="0.8" />
<text x="93.75" y="189.50" font-family='"Liberation Serif", serif' font-size="6.7" font-weight="bold" text-anchor="middle" fill="#000" >Mar-26</text>
<line x1="116.54" y1="182.40" x2="116.54" y2="184.20" stroke="#4a4a4a" stroke-width="0.8" />
<text x="116.54" y="189.50" font-family='"Liberation Serif", serif' font-size="6.7" font-weight="bold" text-anchor="middle" fill="#000" >Apr-23</text>
<line x1="139.32" y1="182.40" x2="139.32" y2="184.20" stroke="#4a4a4a" stroke-width="0.8" />
<text x="139.32" y="189.50" font-family='"Liberation Serif", serif' font-size="6.7" font-weight="bold" text-anchor="middle" fill="#000" >May-21</text>
<line x1="162.11" y1="182.40" x2="162.11" y2="184.20" stroke="#4a4a4a" stroke-width="0.8" />
<text x="162.11" y="189.50" font-family='"Liberation Serif", serif' font-size="6.7" font-weight="bold" text-anchor="middle" fill="#000" >Jun-18</text>
<line x1="184.89" y1="182.40" x2="184.89" y2="184.20" stroke="#4a4a4a" stroke-width="0.8" />
<text x="184.89" y="189.50" font-family='"Liberation Serif", serif' font-size="6.7" font-weight="bold" text-anchor="middle" fill="#000" >Jul-16</text>
<line x1="207.68" y1="182.40" x2="207.68" y2="184.20" stroke="#4a4a4a" stroke-width="0.8" />
<text x="207.68" y="189.50" font-family='"Liberation Serif", serif' font-size="6.7" font-weight="bold" text-anchor="middle" fill="#000" >Aug-13</text>
<line x1="230.46" y1="182.40" x2="230.46" y2="184.20" stroke="#4a4a4a" stroke-width="0.8" />
<text x="230.46" y="189.50" font-family='"Liberation Serif", serif' font-size="6.7" font-weight="bold" text-anchor="middle" fill="#000" >Sep-10</text>
<line x1="253.25" y1="182.40" x2="253.25" y2="184.20" stroke="#4a4a4a" stroke-width="0.8" />
<text x="253.25" y="189.50" font-family='"Liberation Serif", serif' font-size="6.7" font-weight="bold" text-anchor="middle" fill="#000" >Oct-8</text>
<line x1="276.03" y1="182.40" x2="276.03" y2="184.20" stroke="#4a4a4a" stroke-width="0.8" />
<text x="276.03" y="189.50" font-family='"Liberation Serif", serif' font-size="6.7" font-weight="bold" text-anchor="middle" fill="#000" >Nov-5</text>
<line x1="298.82" y1="182.40" x2="298.82" y2="184.20" stroke="#4a4a4a" stroke-width="0.8" />
<text x="298.82" y="189.50" font-family='"Liberation Serif", serif' font-size="6.7" font-weight="bold" text-anchor="middle" fill="#000" >Dec-3</text>
<line x1="321.60" y1="182.40" x2="321.60" y2="184.20" stroke="#4a4a4a" stroke-width="0.8" />
<text x="321.60" y="189.50" font-family='"Liberation Serif", serif' font-size="6.7" font-weight="bold" text-anchor="middle" fill="#000" >Dec-31</text>
<text x="177.50" y="200.60" font-family='"Liberation Serif", serif' font-size="7.3" font-weight="bold" text-anchor="middle" fill="#000" >DATE</text>
<text x="0.00" y="0.00" font-family='"Liberation Serif", serif' font-size="8.1" font-weight="bold" text-anchor="middle" fill="#000" transform="translate(11.2 124.9) rotate(-90)">Temperature (°C)</text>
<text x="0.00" y="0.00" font-family='"Liberation Serif", serif' font-size="8.0" font-weight="bold" text-anchor="middle" fill="#000" transform="translate(343.6 125) rotate(-90)">Rainfall (mm)</text>
<rect x="51.7" y="77.6" width="9.6" height="2.6" fill="#d42020"/>
<text x="62.80" y="81.10" font-family='"Liberation Serif", serif' font-size="6.55" font-weight="bold" text-anchor="start" fill="#000" >Daily average rainfall</text>
<line x1="135.80" y1="78.90" x2="146.00" y2="78.90" stroke="#8cc0ee" stroke-width="1.3" />
<text x="147.20" y="81.10" font-family='"Liberation Serif", serif' font-size="6.55" font-weight="bold" text-anchor="start" fill="#000" >Daily average temperature</text>
<line x1="233.70" y1="78.90" x2="242.90" y2="78.90" stroke="#3a62c0" stroke-width="0.9" />
<text x="243.60" y="81.10" font-family='"Liberation Serif", serif' font-size="6.55" font-weight="bold" text-anchor="start" fill="#000" >Daily rainfall trend</text>
<text x="372.00" y="51.70" font-family='"Liberation Serif", serif' font-size="12" font-weight="bold" text-anchor="start" fill="#000" >C</text>
<g><rect x="370.90" y="82.96" width="0.7" height="3.04" fill="#e56a6a"/><rect x="372.58" y="82.27" width="0.7" height="3.73" fill="#e56a6a"/><rect x="375.11" y="84.02" width="0.7" height="1.98" fill="#e56a6a"/><rect x="376.79" y="84.57" width="0.7" height="1.43" fill="#e56a6a"/><rect x="377.64" y="81.51" width="0.7" height="4.49" fill="#e56a6a"/><rect x="381.00" y="83.51" width="0.7" height="2.49" fill="#e56a6a"/><rect x="381.85" y="80.79" width="0.7" height="5.21" fill="#e56a6a"/><rect x="382.69" y="82.25" width="0.7" height="3.75" fill="#e56a6a"/><rect x="386.06" y="84.75" width="0.7" height="1.25" fill="#e56a6a"/><rect x="386.90" y="81.59" width="0.7" height="4.41" fill="#e56a6a"/><rect x="388.58" y="77.64" width="0.7" height="8.36" fill="#e56a6a"/><rect x="392.79" y="82.19" width="0.7" height="3.81" fill="#e56a6a"/><rect x="393.64" y="77.67" width="0.7" height="8.33" fill="#e56a6a"/><rect x="394.48" y="83.69" width="0.7" height="2.31" fill="#e56a6a"/><rect x="395.32" y="80.68" width="0.7" height="5.32" fill="#e56a6a"/><rect x="396.16" y="82.63" width="0.7" height="3.37" fill="#e56a6a"/><rect x="401.21" y="83.27" width="0.7" height="2.73" fill="#e56a6a"/><rect x="402.90" y="84.11" width="0.7" height="1.89" fill="#e56a6a"/><rect x="404.58" y="84.27" width="0.7" height="1.73" fill="#e56a6a"/><rect x="405.43" y="82.25" width="0.7" height="3.75" fill="#e56a6a"/><rect x="407.11" y="82.80" width="0.7" height="3.20" fill="#e56a6a"/><rect x="409.64" y="77.23" width="0.7" height="8.77" fill="#e56a6a"/><rect x="413.00" y="82.00" width="0.7" height="4.00" fill="#e56a6a"/><rect x="413.85" y="82.28" width="0.7" height="3.72" fill="#e56a6a"/><rect x="417.21" y="84.34" width="0.7" height="1.66" fill="#e56a6a"/><rect x="418.06" y="85.22" width="0.7" height="0.78" fill="#e56a6a"/><rect x="418.90" y="77.10" width="0.7" height="8.90" fill="#e56a6a"/><rect x="421.42" y="79.85" width="0.7" height="6.15" fill="#e56a6a"/><rect x="423.11" y="82.15" width="0.7" height="3.85" fill="#e56a6a"/><rect x="426.48" y="82.10" width="0.7" height="3.90" fill="#e56a6a"/><rect x="427.32" y="84.40" width="0.7" height="1.60" fill="#e56a6a"/><rect x="429.00" y="81.68" width="0.7" height="4.32" fill="#e56a6a"/><rect x="429.85" y="82.92" width="0.7" height="3.08" fill="#e56a6a"/><rect x="432.37" y="81.67" width="0.7" height="4.33" fill="#e56a6a"/><rect x="434.06" y="85.12" width="0.7" height="0.88" fill="#e56a6a"/><rect x="434.90" y="84.94" width="0.7" height="1.06" fill="#e56a6a"/><rect x="437.42" y="84.20" width="0.7" height="1.80" fill="#e56a6a"/><rect x="439.11" y="84.76" width="0.7" height="1.24" fill="#e56a6a"/><rect x="439.95" y="83.30" width="0.7" height="2.70" fill="#e56a6a"/><rect x="440.79" y="82.00" width="0.7" height="4.00" fill="#e56a6a"/><rect x="443.32" y="85.25" width="0.7" height="0.75" fill="#e56a6a"/><rect x="445.00" y="84.49" width="0.7" height="1.51" fill="#e56a6a"/><rect x="446.69" y="83.94" width="0.7" height="2.06" fill="#e56a6a"/><rect x="447.53" y="81.23" width="0.7" height="4.77" fill="#e56a6a"/><rect x="450.90" y="83.47" width="0.7" height="2.53" fill="#e56a6a"/><rect x="453.42" y="83.40" width="0.7" height="2.60" fill="#e56a6a"/><rect x="455.11" y="77.14" width="0.7" height="8.86" fill="#e56a6a"/><rect x="455.95" y="81.53" width="0.7" height="4.47" fill="#e56a6a"/><rect x="456.79" y="85.21" width="0.7" height="0.79" fill="#e56a6a"/><rect x="459.32" y="85.42" width="0.7" height="0.58" fill="#e56a6a"/><rect x="461.00" y="83.94" width="0.7" height="2.06" fill="#e56a6a"/><rect x="461.84" y="85.30" width="0.7" height="0.70" fill="#e56a6a"/><rect x="462.69" y="82.68" width="0.7" height="3.32" fill="#e56a6a"/><rect x="466.05" y="83.55" width="0.7" height="2.45" fill="#e56a6a"/><rect x="468.58" y="83.53" width="0.7" height="2.47" fill="#e56a6a"/><rect x="477.00" y="80.68" width="0.7" height="5.32" fill="#e56a6a"/><rect x="481.21" y="84.25" width="0.7" height="1.75" fill="#e56a6a"/><rect x="482.05" y="83.29" width="0.7" height="2.71" fill="#e56a6a"/><rect x="482.90" y="81.73" width="0.7" height="4.27" fill="#e56a6a"/><rect x="485.42" y="78.78" width="0.7" height="7.22" fill="#e56a6a"/><rect x="486.26" y="82.93" width="0.7" height="3.07" fill="#e56a6a"/><rect x="487.95" y="81.07" width="0.7" height="4.93" fill="#e56a6a"/><rect x="488.79" y="82.08" width="0.7" height="3.92" fill="#e56a6a"/><rect x="490.47" y="84.39" width="0.7" height="1.61" fill="#e56a6a"/><rect x="491.32" y="80.20" width="0.7" height="5.80" fill="#e56a6a"/><rect x="492.16" y="84.38" width="0.7" height="1.62" fill="#e56a6a"/><rect x="493.00" y="84.41" width="0.7" height="1.59" fill="#e56a6a"/><rect x="493.84" y="82.79" width="0.7" height="3.21" fill="#e56a6a"/><rect x="497.21" y="85.34" width="0.7" height="0.66" fill="#e56a6a"/><rect x="499.74" y="83.32" width="0.7" height="2.68" fill="#e56a6a"/><rect x="500.58" y="83.68" width="0.7" height="2.32" fill="#e56a6a"/><rect x="502.26" y="82.33" width="0.7" height="3.67" fill="#e56a6a"/><rect x="504.79" y="83.89" width="0.7" height="2.11" fill="#e56a6a"/><rect x="506.47" y="77.94" width="0.7" height="8.06" fill="#e56a6a"/><rect x="509.00" y="85.18" width="0.7" height="0.82" fill="#e56a6a"/><rect x="512.37" y="82.24" width="0.7" height="3.76" fill="#e56a6a"/><rect x="516.58" y="84.09" width="0.7" height="1.91" fill="#e56a6a"/><rect x="517.42" y="81.94" width="0.7" height="4.06" fill="#e56a6a"/><rect x="518.26" y="83.45" width="0.7" height="2.55" fill="#e56a6a"/><rect x="519.95" y="85.26" width="0.7" height="0.74" fill="#e56a6a"/><rect x="520.79" y="82.78" width="0.7" height="3.22" fill="#e56a6a"/><rect x="522.47" y="81.78" width="0.7" height="4.22" fill="#e56a6a"/><rect x="524.16" y="82.59" width="0.7" height="3.41" fill="#e56a6a"/><rect x="421.65" y="64.50" width="0.8" height="21.50" fill="#e05858"/><rect x="424.45" y="77.60" width="0.8" height="8.40" fill="#e05858"/><rect x="439.85" y="65.00" width="0.8" height="21.00" fill="#e05858"/><rect x="442.15" y="78.70" width="0.8" height="7.30" fill="#e05858"/><rect x="476.45" y="80.00" width="0.8" height="6.00" fill="#e05858"/><rect x="480.05" y="70.50" width="0.8" height="15.50" fill="#e05858"/><rect x="482.35" y="78.70" width="0.8" height="7.30" fill="#e05858"/><rect x="484.65" y="80.00" width="0.8" height="6.00" fill="#e05858"/><rect x="497.65" y="78.30" width="0.8" height="7.70" fill="#e05858"/><rect x="510.65" y="78.30" width="0.8" height="7.70" fill="#e05858"/><rect x="405.65" y="80.00" width="0.8" height="6.00" fill="#e05858"/><rect x="432.65" y="81.00" width="0.8" height="5.00" fill="#e05858"/></g>
<polyline points="370.90,64.03 371.74,63.89 372.58,65.19 373.43,65.08 374.27,65.72 375.11,66.93 375.95,67.99 376.79,68.95 377.64,69.25 378.48,69.77 379.32,68.67 380.16,67.43 381.00,67.42 381.85,66.52 382.69,65.80 383.53,65.61 384.37,65.69 385.22,66.99 386.06,67.78 386.90,67.96 387.74,67.43 388.58,66.29 389.43,64.39 390.27,64.43 391.11,65.07 391.95,65.54 392.79,65.24 393.64,66.29 394.48,67.24 395.32,67.51 396.16,67.39 397.00,66.95 397.85,66.07 398.69,66.69 399.53,65.91 400.37,66.42 401.21,66.20 402.06,67.74 402.90,67.80 403.74,68.65 404.58,68.13 405.43,67.36 406.27,65.78 407.11,64.50 407.95,63.94 408.79,63.22 409.64,63.23 410.48,63.14 411.32,62.17 412.16,61.48 413.00,60.93 413.85,60.98 414.69,61.10 415.53,60.43 416.37,61.20 417.21,60.65 418.06,60.56 418.90,62.07 419.74,62.12 420.58,63.09 421.42,63.16 422.27,63.21 423.11,63.88 423.95,64.27 424.79,64.20 425.63,64.03 426.48,63.68 427.32,63.23 428.16,62.42 429.00,62.31 429.85,61.91 430.69,61.90 431.53,61.52 432.37,61.74 433.21,61.54 434.06,60.92 434.90,61.76 435.74,61.37 436.58,61.52 437.42,61.33 438.27,62.12 439.11,63.97 439.95,64.76 440.79,64.44 441.63,63.51 442.48,63.84 443.32,63.28 444.16,62.81 445.00,62.86 445.84,61.43 446.69,61.01 447.53,61.31 448.37,61.51 449.21,61.23 450.06,60.82 450.90,61.31 451.74,61.97 452.58,61.69 453.42,61.75 454.27,61.77 455.11,62.19 455.95,62.44 456.79,62.84 457.63,63.34 458.48,63.49 459.32,63.32 460.16,63.46 461.00,64.38 461.84,64.68 462.69,65.13 463.53,64.55 464.37,65.14 465.21,64.78 466.05,63.40 466.90,63.26 467.74,63.25 468.58,62.25 469.42,62.66 470.27,61.58 471.11,61.72 471.95,61.29 472.79,61.23 473.63,61.24 474.48,61.62 475.32,61.91 476.16,61.35 477.00,61.94 477.84,61.55 478.69,61.95 479.53,61.65 480.37,61.47 481.21,61.43 482.05,61.36 482.90,62.16 483.74,61.85 484.58,61.53 485.42,62.52 486.26,62.36 487.11,61.72 487.95,62.68 488.79,62.64 489.63,62.58 490.47,62.77 491.32,63.44 492.16,62.85 493.00,63.28 493.84,63.40 494.69,63.19 495.53,63.29 496.37,63.90 497.21,63.87 498.05,63.77 498.90,63.96 499.74,63.53 500.58,63.94 501.42,62.75 502.26,63.23 503.11,62.73 503.95,62.18 504.79,62.35 505.63,62.08 506.47,61.21 507.32,61.43 508.16,60.77 509.00,61.37 509.84,60.84 510.68,60.88 511.53,60.78 512.37,60.62 513.21,60.82 514.05,60.81 514.90,61.42 515.74,61.72 516.58,61.00 517.42,60.91 518.26,61.45 519.11,60.99 519.95,61.37 520.79,61.83 521.63,61.20 522.47,61.83 523.32,61.67 524.16,61.17 525.00,61.39" fill="none" stroke="#8cc2ee" stroke-width="0.9" stroke-linejoin="round"/>
<rect x="370.9" y="53.6" width="154.10000000000002" height="32.4" fill="none" stroke="#8a8a8a" stroke-width="0.9"/>
<line x1="369.40" y1="86.00" x2="370.90" y2="86.00" stroke="#8a8a8a" stroke-width="0.7" />
<text x="366.60" y="88.00" font-family='"Liberation Serif", serif' font-size="6.0" font-weight="bold" text-anchor="end" fill="#000" >0</text>
<line x1="369.40" y1="77.90" x2="370.90" y2="77.90" stroke="#8a8a8a" stroke-width="0.7" />
<text x="366.60" y="79.90" font-family='"Liberation Serif", serif' font-size="6.0" font-weight="bold" text-anchor="end" fill="#000" >10</text>
<line x1="369.40" y1="69.80" x2="370.90" y2="69.80" stroke="#8a8a8a" stroke-width="0.7" />
<text x="366.60" y="71.80" font-family='"Liberation Serif", serif' font-size="6.0" font-weight="bold" text-anchor="end" fill="#000" >20</text>
<line x1="369.40" y1="61.70" x2="370.90" y2="61.70" stroke="#8a8a8a" stroke-width="0.7" />
<text x="366.60" y="63.70" font-family='"Liberation Serif", serif' font-size="6.0" font-weight="bold" text-anchor="end" fill="#000" >30</text>
<line x1="369.40" y1="53.60" x2="370.90" y2="53.60" stroke="#8a8a8a" stroke-width="0.7" />
<text x="366.60" y="55.60" font-family='"Liberation Serif", serif' font-size="6.0" font-weight="bold" text-anchor="end" fill="#000" >40</text>
<line x1="525.00" y1="86.00" x2="526.50" y2="86.00" stroke="#8a8a8a" stroke-width="0.7" />
<text x="529.60" y="88.00" font-family='"Liberation Serif", serif' font-size="6.0" font-weight="bold" text-anchor="start" fill="#000" >0</text>
<line x1="525.00" y1="79.52" x2="526.50" y2="79.52" stroke="#8a8a8a" stroke-width="0.7" />
<text x="529.60" y="81.52" font-family='"Liberation Serif", serif' font-size="6.0" font-weight="bold" text-anchor="start" fill="#000" >20</text>
<line x1="525.00" y1="73.04" x2="526.50" y2="73.04" stroke="#8a8a8a" stroke-width="0.7" />
<text x="529.60" y="75.04" font-family='"Liberation Serif", serif' font-size="6.0" font-weight="bold" text-anchor="start" fill="#000" >40</text>
<line x1="525.00" y1="66.56" x2="526.50" y2="66.56" stroke="#8a8a8a" stroke-width="0.7" />
<text x="529.60" y="68.56" font-family='"Liberation Serif", serif' font-size="6.0" font-weight="bold" text-anchor="start" fill="#000" >60</text>
<line x1="525.00" y1="60.08" x2="526.50" y2="60.08" stroke="#8a8a8a" stroke-width="0.7" />
<text x="529.60" y="62.08" font-family='"Liberation Serif", serif' font-size="6.0" font-weight="bold" text-anchor="start" fill="#000" >80</text>
<line x1="525.00" y1="53.60" x2="526.50" y2="53.60" stroke="#8a8a8a" stroke-width="0.7" />
<text x="529.60" y="55.60" font-family='"Liberation Serif", serif' font-size="6.0" font-weight="bold" text-anchor="start" fill="#000" >100</text>
<text x="372.00" y="99.50" font-family='"Liberation Serif", serif' font-size="12" font-weight="bold" text-anchor="start" fill="#000" >D</text>
<g><rect x="373.43" y="129.94" width="0.7" height="4.06" fill="#e56a6a"/><rect x="375.11" y="131.03" width="0.7" height="2.97" fill="#e56a6a"/><rect x="378.48" y="127.19" width="0.7" height="6.81" fill="#e56a6a"/><rect x="379.32" y="131.52" width="0.7" height="2.48" fill="#e56a6a"/><rect x="380.16" y="130.56" width="0.7" height="3.44" fill="#e56a6a"/><rect x="381.00" y="125.43" width="0.7" height="8.57" fill="#e56a6a"/><rect x="383.53" y="129.58" width="0.7" height="4.42" fill="#e56a6a"/><rect x="384.37" y="129.91" width="0.7" height="4.09" fill="#e56a6a"/><rect x="386.06" y="132.53" width="0.7" height="1.47" fill="#e56a6a"/><rect x="386.90" y="131.40" width="0.7" height="2.60" fill="#e56a6a"/><rect x="387.74" y="132.76" width="0.7" height="1.24" fill="#e56a6a"/><rect x="388.58" y="130.01" width="0.7" height="3.99" fill="#e56a6a"/><rect x="391.11" y="133.02" width="0.7" height="0.98" fill="#e56a6a"/><rect x="391.95" y="132.40" width="0.7" height="1.60" fill="#e56a6a"/><rect x="392.79" y="130.89" width="0.7" height="3.11" fill="#e56a6a"/><rect x="395.32" y="130.36" width="0.7" height="3.64" fill="#e56a6a"/><rect x="396.16" y="131.58" width="0.7" height="2.42" fill="#e56a6a"/><rect x="397.00" y="133.06" width="0.7" height="0.94" fill="#e56a6a"/><rect x="398.69" y="131.73" width="0.7" height="2.27" fill="#e56a6a"/><rect x="399.53" y="126.79" width="0.7" height="7.21" fill="#e56a6a"/><rect x="400.37" y="131.05" width="0.7" height="2.95" fill="#e56a6a"/><rect x="401.21" y="131.09" width="0.7" height="2.91" fill="#e56a6a"/><rect x="403.74" y="132.46" width="0.7" height="1.54" fill="#e56a6a"/><rect x="407.11" y="130.29" width="0.7" height="3.71" fill="#e56a6a"/><rect x="407.95" y="132.76" width="0.7" height="1.24" fill="#e56a6a"/><rect x="410.48" y="130.46" width="0.7" height="3.54" fill="#e56a6a"/><rect x="413.00" y="125.45" width="0.7" height="8.55" fill="#e56a6a"/><rect x="419.74" y="132.42" width="0.7" height="1.58" fill="#e56a6a"/><rect x="422.27" y="129.70" width="0.7" height="4.30" fill="#e56a6a"/><rect x="423.11" y="126.37" width="0.7" height="7.63" fill="#e56a6a"/><rect x="426.48" y="128.52" width="0.7" height="5.48" fill="#e56a6a"/><rect x="429.00" y="133.42" width="0.7" height="0.58" fill="#e56a6a"/><rect x="431.53" y="132.03" width="0.7" height="1.97" fill="#e56a6a"/><rect x="437.42" y="130.05" width="0.7" height="3.95" fill="#e56a6a"/><rect x="439.11" y="132.17" width="0.7" height="1.83" fill="#e56a6a"/><rect x="439.95" y="131.70" width="0.7" height="2.30" fill="#e56a6a"/><rect x="440.79" y="132.69" width="0.7" height="1.31" fill="#e56a6a"/><rect x="441.63" y="131.84" width="0.7" height="2.16" fill="#e56a6a"/><rect x="442.48" y="127.73" width="0.7" height="6.27" fill="#e56a6a"/><rect x="445.00" y="133.19" width="0.7" height="0.81" fill="#e56a6a"/><rect x="445.84" y="132.49" width="0.7" height="1.51" fill="#e56a6a"/><rect x="446.69" y="130.95" width="0.7" height="3.05" fill="#e56a6a"/><rect x="447.53" y="132.37" width="0.7" height="1.63" fill="#e56a6a"/><rect x="449.21" y="132.86" width="0.7" height="1.14" fill="#e56a6a"/><rect x="450.90" y="129.62" width="0.7" height="4.38" fill="#e56a6a"/><rect x="453.42" y="130.75" width="0.7" height="3.25" fill="#e56a6a"/><rect x="454.27" y="131.44" width="0.7" height="2.56" fill="#e56a6a"/><rect x="455.95" y="130.53" width="0.7" height="3.47" fill="#e56a6a"/><rect x="457.63" y="129.97" width="0.7" height="4.03" fill="#e56a6a"/><rect x="458.48" y="129.30" width="0.7" height="4.70" fill="#e56a6a"/><rect x="461.84" y="129.70" width="0.7" height="4.30" fill="#e56a6a"/><rect x="463.53" y="133.11" width="0.7" height="0.89" fill="#e56a6a"/><rect x="465.21" y="133.37" width="0.7" height="0.63" fill="#e56a6a"/><rect x="466.05" y="131.59" width="0.7" height="2.41" fill="#e56a6a"/><rect x="466.90" y="130.47" width="0.7" height="3.53" fill="#e56a6a"/><rect x="467.74" y="131.41" width="0.7" height="2.59" fill="#e56a6a"/><rect x="471.11" y="125.04" width="0.7" height="8.96" fill="#e56a6a"/><rect x="473.63" y="130.34" width="0.7" height="3.66" fill="#e56a6a"/><rect x="477.00" y="131.33" width="0.7" height="2.67" fill="#e56a6a"/><rect x="477.84" y="129.84" width="0.7" height="4.16" fill="#e56a6a"/><rect x="478.69" y="132.28" width="0.7" height="1.72" fill="#e56a6a"/><rect x="480.37" y="125.43" width="0.7" height="8.57" fill="#e56a6a"/><rect x="482.90" y="130.21" width="0.7" height="3.79" fill="#e56a6a"/><rect x="483.74" y="130.02" width="0.7" height="3.98" fill="#e56a6a"/><rect x="485.42" y="133.38" width="0.7" height="0.62" fill="#e56a6a"/><rect x="486.26" y="132.38" width="0.7" height="1.62" fill="#e56a6a"/><rect x="490.47" y="132.10" width="0.7" height="1.90" fill="#e56a6a"/><rect x="491.32" y="130.35" width="0.7" height="3.65" fill="#e56a6a"/><rect x="493.00" y="133.25" width="0.7" height="0.75" fill="#e56a6a"/><rect x="493.84" y="129.89" width="0.7" height="4.11" fill="#e56a6a"/><rect x="494.69" y="132.08" width="0.7" height="1.92" fill="#e56a6a"/><rect x="495.53" y="133.25" width="0.7" height="0.75" fill="#e56a6a"/><rect x="496.37" y="130.55" width="0.7" height="3.45" fill="#e56a6a"/><rect x="498.05" y="130.53" width="0.7" height="3.47" fill="#e56a6a"/><rect x="498.90" y="132.78" width="0.7" height="1.22" fill="#e56a6a"/><rect x="501.42" y="130.26" width="0.7" height="3.74" fill="#e56a6a"/><rect x="502.26" y="132.31" width="0.7" height="1.69" fill="#e56a6a"/><rect x="503.11" y="132.25" width="0.7" height="1.75" fill="#e56a6a"/><rect x="504.79" y="131.17" width="0.7" height="2.83" fill="#e56a6a"/><rect x="505.63" y="125.43" width="0.7" height="8.57" fill="#e56a6a"/><rect x="507.32" y="131.00" width="0.7" height="3.00" fill="#e56a6a"/><rect x="508.16" y="131.37" width="0.7" height="2.63" fill="#e56a6a"/><rect x="509.00" y="130.46" width="0.7" height="3.54" fill="#e56a6a"/><rect x="509.84" y="132.73" width="0.7" height="1.27" fill="#e56a6a"/><rect x="510.68" y="129.64" width="0.7" height="4.36" fill="#e56a6a"/><rect x="511.53" y="132.11" width="0.7" height="1.89" fill="#e56a6a"/><rect x="513.21" y="133.17" width="0.7" height="0.83" fill="#e56a6a"/><rect x="518.26" y="130.91" width="0.7" height="3.09" fill="#e56a6a"/><rect x="386.45" y="129.40" width="0.8" height="4.60" fill="#e05858"/><rect x="390.65" y="122.00" width="0.8" height="12.00" fill="#e05858"/><rect x="396.35" y="109.70" width="0.8" height="24.30" fill="#e05858"/><rect x="404.35" y="115.50" width="0.8" height="18.50" fill="#e05858"/><rect x="405.65" y="116.30" width="0.8" height="17.70" fill="#e05858"/><rect x="407.95" y="118.60" width="0.8" height="15.40" fill="#e05858"/><rect x="415.25" y="127.00" width="0.8" height="7.00" fill="#e05858"/><rect x="426.85" y="118.60" width="0.8" height="15.40" fill="#e05858"/><rect x="429.15" y="115.00" width="0.8" height="19.00" fill="#e05858"/><rect x="432.65" y="113.40" width="0.8" height="20.60" fill="#e05858"/><rect x="433.95" y="122.00" width="0.8" height="12.00" fill="#e05858"/><rect x="449.25" y="112.70" width="0.8" height="21.30" fill="#e05858"/><rect x="452.15" y="123.40" width="0.8" height="10.60" fill="#e05858"/><rect x="475.65" y="127.00" width="0.8" height="7.00" fill="#e05858"/><rect x="481.25" y="124.00" width="0.8" height="10.00" fill="#e05858"/><rect x="504.65" y="124.50" width="0.8" height="9.50" fill="#e05858"/><rect x="514.35" y="131.00" width="0.8" height="3.00" fill="#e05858"/></g>
<polyline points="370.90,121.86 371.74,120.72 372.58,118.55 373.43,117.47 374.27,115.88 375.11,114.49 375.95,114.60 376.79,114.44 377.64,114.30 378.48,114.15 379.32,114.67 380.16,115.07 381.00,114.53 381.85,114.45 382.69,115.20 383.53,115.48 384.37,116.40 385.22,118.24 386.06,119.25 386.90,118.85 387.74,118.26 388.58,116.64 389.43,116.36 390.27,114.54 391.11,113.81 391.95,113.29 392.79,112.62 393.64,111.37 394.48,112.78 395.32,114.07 396.16,115.78 397.00,116.74 397.85,115.33 398.69,114.77 399.53,114.16 400.37,114.10 401.21,113.57 402.06,113.64 402.90,114.56 403.74,114.17 404.58,114.52 405.43,115.86 406.27,116.68 407.11,117.71 407.95,118.30 408.79,118.04 409.64,116.24 410.48,115.46 411.32,114.23 412.16,112.88 413.00,111.84 413.85,112.51 414.69,111.76 415.53,111.67 416.37,111.98 417.21,111.83 418.06,111.70 418.90,112.81 419.74,112.42 420.58,111.84 421.42,112.49 422.27,112.11 423.11,112.52 423.95,113.12 424.79,113.21 425.63,112.56 426.48,112.89 427.32,112.27 428.16,111.51 429.00,111.63 429.85,111.86 430.69,111.55 431.53,111.22 432.37,111.27 433.21,110.28 434.06,110.40 434.90,110.27 435.74,110.25 436.58,110.32 437.42,110.46 438.27,109.96 439.11,110.14 439.95,110.57 440.79,110.11 441.63,110.47 442.48,110.68 443.32,110.62 444.16,110.74 445.00,111.43 445.84,111.16 446.69,110.99 447.53,112.02 448.37,112.33 449.21,111.61 450.06,112.00 450.90,110.88 451.74,110.64 452.58,110.17 453.42,110.34 454.27,109.84 455.11,109.97 455.95,109.63 456.79,109.60 457.63,109.60 458.48,109.11 459.32,108.54 460.16,108.32 461.00,109.01 461.84,108.83 462.69,108.47 463.53,108.70 464.37,108.39 465.21,107.76 466.05,107.35 466.90,107.50 467.74,107.95 468.58,107.77 469.42,107.04 470.27,107.37 471.11,108.23 471.95,109.13 472.79,109.42 473.63,109.71 474.48,109.12 475.32,109.62 476.16,110.64 477.00,110.57 477.84,110.76 478.69,111.87 479.53,111.07 480.37,111.97 481.21,112.09 482.05,111.49 482.90,111.33 483.74,110.20 484.58,110.16 485.42,110.50 486.26,109.54 487.11,109.95 487.95,110.67 488.79,109.73 489.63,110.52 490.47,110.54 491.32,110.00 492.16,110.94 493.00,110.74 493.84,110.01 494.69,111.09 495.53,110.97 496.37,110.50 497.21,109.98 498.05,110.90 498.90,110.67 499.74,110.88 500.58,110.09 501.42,110.59 502.26,111.00 503.11,110.91 503.95,110.26 504.79,110.46 505.63,110.63 506.47,110.65 507.32,111.30 508.16,111.24 509.00,110.14 509.84,110.89 510.68,110.33 511.53,111.22 512.37,110.83 513.21,111.28 514.05,111.31 514.90,111.36 515.74,110.45 516.58,110.34 517.42,111.20 518.26,110.85 519.11,111.24 519.95,110.85 520.79,110.83 521.63,111.23 522.47,110.80 523.32,110.97 524.16,110.86 525.00,111.21" fill="none" stroke="#8cc2ee" stroke-width="0.9" stroke-linejoin="round"/>
<rect x="370.9" y="101.4" width="154.10000000000002" height="32.599999999999994" fill="none" stroke="#8a8a8a" stroke-width="0.9"/>
<line x1="369.40" y1="134.00" x2="370.90" y2="134.00" stroke="#8a8a8a" stroke-width="0.7" />
<text x="366.60" y="136.00" font-family='"Liberation Serif", serif' font-size="6.0" font-weight="bold" text-anchor="end" fill="#000" >0</text>
<line x1="369.40" y1="125.85" x2="370.90" y2="125.85" stroke="#8a8a8a" stroke-width="0.7" />
<text x="366.60" y="127.85" font-family='"Liberation Serif", serif' font-size="6.0" font-weight="bold" text-anchor="end" fill="#000" >10</text>
<line x1="369.40" y1="117.70" x2="370.90" y2="117.70" stroke="#8a8a8a" stroke-width="0.7" />
<text x="366.60" y="119.70" font-family='"Liberation Serif", serif' font-size="6.0" font-weight="bold" text-anchor="end" fill="#000" >20</text>
<line x1="369.40" y1="109.55" x2="370.90" y2="109.55" stroke="#8a8a8a" stroke-width="0.7" />
<text x="366.60" y="111.55" font-family='"Liberation Serif", serif' font-size="6.0" font-weight="bold" text-anchor="end" fill="#000" >30</text>
<line x1="369.40" y1="101.40" x2="370.90" y2="101.40" stroke="#8a8a8a" stroke-width="0.7" />
<text x="366.60" y="103.40" font-family='"Liberation Serif", serif' font-size="6.0" font-weight="bold" text-anchor="end" fill="#000" >40</text>
<line x1="525.00" y1="134.00" x2="526.50" y2="134.00" stroke="#8a8a8a" stroke-width="0.7" />
<text x="529.60" y="136.00" font-family='"Liberation Serif", serif' font-size="6.0" font-weight="bold" text-anchor="start" fill="#000" >0</text>
<line x1="525.00" y1="127.48" x2="526.50" y2="127.48" stroke="#8a8a8a" stroke-width="0.7" />
<text x="529.60" y="129.48" font-family='"Liberation Serif", serif' font-size="6.0" font-weight="bold" text-anchor="start" fill="#000" >20</text>
<line x1="525.00" y1="120.96" x2="526.50" y2="120.96" stroke="#8a8a8a" stroke-width="0.7" />
<text x="529.60" y="122.96" font-family='"Liberation Serif", serif' font-size="6.0" font-weight="bold" text-anchor="start" fill="#000" >40</text>
<line x1="525.00" y1="114.44" x2="526.50" y2="114.44" stroke="#8a8a8a" stroke-width="0.7" />
<text x="529.60" y="116.44" font-family='"Liberation Serif", serif' font-size="6.0" font-weight="bold" text-anchor="start" fill="#000" >60</text>
<line x1="525.00" y1="107.92" x2="526.50" y2="107.92" stroke="#8a8a8a" stroke-width="0.7" />
<text x="529.60" y="109.92" font-family='"Liberation Serif", serif' font-size="6.0" font-weight="bold" text-anchor="start" fill="#000" >80</text>
<line x1="525.00" y1="101.40" x2="526.50" y2="101.40" stroke="#8a8a8a" stroke-width="0.7" />
<text x="529.60" y="103.40" font-family='"Liberation Serif", serif' font-size="6.0" font-weight="bold" text-anchor="start" fill="#000" >100</text>
<text x="373.50" y="148.00" font-family='"Liberation Serif", serif' font-size="12" font-weight="bold" text-anchor="start" fill="#000" >E</text>
<g><rect x="370.90" y="181.37" width="0.7" height="0.83" fill="#e56a6a"/><rect x="371.74" y="181.66" width="0.7" height="0.54" fill="#e56a6a"/><rect x="372.58" y="180.46" width="0.7" height="1.74" fill="#e56a6a"/><rect x="374.27" y="181.16" width="0.7" height="1.04" fill="#e56a6a"/><rect x="376.79" y="174.90" width="0.7" height="7.30" fill="#e56a6a"/><rect x="377.64" y="178.90" width="0.7" height="3.30" fill="#e56a6a"/><rect x="379.32" y="178.60" width="0.7" height="3.60" fill="#e56a6a"/><rect x="381.00" y="178.70" width="0.7" height="3.50" fill="#e56a6a"/><rect x="381.85" y="178.19" width="0.7" height="4.01" fill="#e56a6a"/><rect x="388.58" y="173.73" width="0.7" height="8.47" fill="#e56a6a"/><rect x="389.43" y="181.63" width="0.7" height="0.57" fill="#e56a6a"/><rect x="391.95" y="178.36" width="0.7" height="3.84" fill="#e56a6a"/><rect x="392.79" y="181.35" width="0.7" height="0.85" fill="#e56a6a"/><rect x="393.64" y="175.53" width="0.7" height="6.67" fill="#e56a6a"/><rect x="394.48" y="175.25" width="0.7" height="6.95" fill="#e56a6a"/><rect x="396.16" y="180.97" width="0.7" height="1.23" fill="#e56a6a"/><rect x="397.85" y="178.58" width="0.7" height="3.62" fill="#e56a6a"/><rect x="400.37" y="179.94" width="0.7" height="2.26" fill="#e56a6a"/><rect x="401.21" y="175.33" width="0.7" height="6.87" fill="#e56a6a"/><rect x="404.58" y="177.82" width="0.7" height="4.38" fill="#e56a6a"/><rect x="406.27" y="178.56" width="0.7" height="3.64" fill="#e56a6a"/><rect x="407.95" y="180.13" width="0.7" height="2.07" fill="#e56a6a"/><rect x="409.64" y="178.68" width="0.7" height="3.52" fill="#e56a6a"/><rect x="410.48" y="176.87" width="0.7" height="5.33" fill="#e56a6a"/><rect x="412.16" y="180.19" width="0.7" height="2.01" fill="#e56a6a"/><rect x="414.69" y="178.36" width="0.7" height="3.84" fill="#e56a6a"/><rect x="416.37" y="178.16" width="0.7" height="4.04" fill="#e56a6a"/><rect x="417.21" y="176.85" width="0.7" height="5.35" fill="#e56a6a"/><rect x="425.63" y="177.82" width="0.7" height="4.38" fill="#e56a6a"/><rect x="426.48" y="179.21" width="0.7" height="2.99" fill="#e56a6a"/><rect x="427.32" y="178.45" width="0.7" height="3.75" fill="#e56a6a"/><rect x="430.69" y="178.62" width="0.7" height="3.58" fill="#e56a6a"/><rect x="434.90" y="178.83" width="0.7" height="3.37" fill="#e56a6a"/><rect x="435.74" y="181.37" width="0.7" height="0.83" fill="#e56a6a"/><rect x="437.42" y="180.07" width="0.7" height="2.13" fill="#e56a6a"/><rect x="441.63" y="181.30" width="0.7" height="0.90" fill="#e56a6a"/><rect x="449.21" y="175.18" width="0.7" height="7.02" fill="#e56a6a"/><rect x="450.90" y="180.34" width="0.7" height="1.86" fill="#e56a6a"/><rect x="453.42" y="181.21" width="0.7" height="0.99" fill="#e56a6a"/><rect x="455.95" y="180.34" width="0.7" height="1.86" fill="#e56a6a"/><rect x="456.79" y="179.69" width="0.7" height="2.51" fill="#e56a6a"/><rect x="457.63" y="174.34" width="0.7" height="7.86" fill="#e56a6a"/><rect x="459.32" y="180.76" width="0.7" height="1.44" fill="#e56a6a"/><rect x="460.16" y="175.24" width="0.7" height="6.96" fill="#e56a6a"/><rect x="464.37" y="176.16" width="0.7" height="6.04" fill="#e56a6a"/><rect x="465.21" y="179.62" width="0.7" height="2.58" fill="#e56a6a"/><rect x="467.74" y="177.73" width="0.7" height="4.47" fill="#e56a6a"/><rect x="471.11" y="178.22" width="0.7" height="3.98" fill="#e56a6a"/><rect x="472.79" y="178.35" width="0.7" height="3.85" fill="#e56a6a"/><rect x="477.00" y="180.33" width="0.7" height="1.87" fill="#e56a6a"/><rect x="477.84" y="173.94" width="0.7" height="8.26" fill="#e56a6a"/><rect x="479.53" y="174.34" width="0.7" height="7.86" fill="#e56a6a"/><rect x="483.74" y="180.01" width="0.7" height="2.19" fill="#e56a6a"/><rect x="484.58" y="181.27" width="0.7" height="0.93" fill="#e56a6a"/><rect x="486.26" y="173.70" width="0.7" height="8.50" fill="#e56a6a"/><rect x="487.11" y="178.37" width="0.7" height="3.83" fill="#e56a6a"/><rect x="488.79" y="177.95" width="0.7" height="4.25" fill="#e56a6a"/><rect x="489.63" y="179.23" width="0.7" height="2.97" fill="#e56a6a"/><rect x="493.00" y="181.22" width="0.7" height="0.98" fill="#e56a6a"/><rect x="494.69" y="181.10" width="0.7" height="1.10" fill="#e56a6a"/><rect x="495.53" y="179.16" width="0.7" height="3.04" fill="#e56a6a"/><rect x="496.37" y="181.55" width="0.7" height="0.65" fill="#e56a6a"/><rect x="498.05" y="179.91" width="0.7" height="2.29" fill="#e56a6a"/><rect x="498.90" y="173.60" width="0.7" height="8.60" fill="#e56a6a"/><rect x="501.42" y="181.47" width="0.7" height="0.73" fill="#e56a6a"/><rect x="502.26" y="176.45" width="0.7" height="5.75" fill="#e56a6a"/><rect x="505.63" y="178.28" width="0.7" height="3.92" fill="#e56a6a"/><rect x="506.47" y="178.03" width="0.7" height="4.17" fill="#e56a6a"/><rect x="507.32" y="180.57" width="0.7" height="1.63" fill="#e56a6a"/><rect x="508.16" y="178.70" width="0.7" height="3.50" fill="#e56a6a"/><rect x="509.84" y="175.08" width="0.7" height="7.12" fill="#e56a6a"/><rect x="510.68" y="179.25" width="0.7" height="2.95" fill="#e56a6a"/><rect x="511.53" y="181.36" width="0.7" height="0.84" fill="#e56a6a"/><rect x="512.37" y="176.97" width="0.7" height="5.23" fill="#e56a6a"/><rect x="514.05" y="179.98" width="0.7" height="2.22" fill="#e56a6a"/><rect x="514.90" y="180.93" width="0.7" height="1.27" fill="#e56a6a"/><rect x="515.74" y="180.45" width="0.7" height="1.75" fill="#e56a6a"/><rect x="521.63" y="179.68" width="0.7" height="2.52" fill="#e56a6a"/><rect x="522.47" y="174.69" width="0.7" height="7.51" fill="#e56a6a"/><rect x="524.16" y="178.59" width="0.7" height="3.61" fill="#e56a6a"/><rect x="407.65" y="165.50" width="0.8" height="16.70" fill="#e05858"/><rect x="414.35" y="171.00" width="0.8" height="11.20" fill="#e05858"/><rect x="461.65" y="166.50" width="0.8" height="15.70" fill="#e05858"/><rect x="471.45" y="164.40" width="0.8" height="17.80" fill="#e05858"/><rect x="499.45" y="165.50" width="0.8" height="16.70" fill="#e05858"/><rect x="504.15" y="150.20" width="0.8" height="32.00" fill="#e05858"/><rect x="509.65" y="174.50" width="0.8" height="7.70" fill="#e05858"/><rect x="429.65" y="172.00" width="0.8" height="10.20" fill="#e05858"/><rect x="439.65" y="173.00" width="0.8" height="9.20" fill="#e05858"/><rect x="489.65" y="172.00" width="0.8" height="10.20" fill="#e05858"/></g>
<polyline points="370.90,166.09 371.74,163.86 372.58,162.41 373.43,161.82 374.27,162.29 375.11,163.93 375.95,164.41 376.79,164.84 377.64,166.20 378.48,167.41 379.32,165.50 380.16,164.38 381.00,163.82 381.85,162.10 382.69,161.73 383.53,161.06 384.37,160.77 385.22,160.63 386.06,161.13 386.90,160.21 387.74,160.40 388.58,160.12 389.43,160.63 390.27,160.37 391.11,161.53 391.95,163.67 392.79,164.44 393.64,164.23 394.48,163.64 395.32,163.49 396.16,162.26 397.00,162.28 397.85,162.06 398.69,161.67 399.53,161.12 400.37,160.98 401.21,161.35 402.06,162.61 402.90,163.05 403.74,163.33 404.58,164.47 405.43,163.81 406.27,163.32 407.11,162.70 407.95,162.10 408.79,160.87 409.64,160.26 410.48,160.35 411.32,158.62 412.16,159.13 413.00,158.39 413.85,157.46 414.69,157.82 415.53,157.35 416.37,157.62 417.21,157.66 418.06,157.31 418.90,157.48 419.74,156.89 420.58,157.22 421.42,157.25 422.27,157.88 423.11,157.08 423.95,157.76 424.79,157.79 425.63,157.46 426.48,158.23 427.32,158.26 428.16,157.56 429.00,157.71 429.85,158.16 430.69,157.53 431.53,157.69 432.37,157.46 433.21,158.14 434.06,157.85 434.90,157.35 435.74,158.20 436.58,157.82 437.42,157.93 438.27,157.40 439.11,157.90 439.95,157.46 440.79,158.20 441.63,157.07 442.48,157.02 443.32,157.40 444.16,157.07 445.00,157.04 445.84,157.75 446.69,157.47 447.53,157.62 448.37,156.97 449.21,157.50 450.06,157.62 450.90,156.68 451.74,156.67 452.58,156.89 453.42,156.61 454.27,157.12 455.11,156.66 455.95,156.43 456.79,156.22 457.63,155.83 458.48,155.74 459.32,155.72 460.16,155.29 461.00,155.36 461.84,155.75 462.69,155.53 463.53,155.40 464.37,155.34 465.21,155.26 466.05,155.65 466.90,154.96 467.74,155.14 468.58,154.46 469.42,154.95 470.27,154.63 471.11,155.32 471.95,155.73 472.79,155.11 473.63,156.24 474.48,156.23 475.32,156.83 476.16,156.11 477.00,157.36 477.84,157.54 478.69,157.97 479.53,157.57 480.37,157.72 481.21,157.94 482.05,157.41 482.90,157.48 483.74,157.65 484.58,156.94 485.42,157.51 486.26,157.22 487.11,156.86 487.95,156.84 488.79,155.66 489.63,156.22 490.47,156.68 491.32,156.34 492.16,156.99 493.00,156.72 493.84,157.85 494.69,157.54 495.53,158.79 496.37,158.68 497.21,158.35 498.05,159.26 498.90,159.11 499.74,159.68 500.58,160.52 501.42,160.27 502.26,161.62 503.11,161.90 503.95,162.34 504.79,162.37 505.63,161.76 506.47,161.65 507.32,161.19 508.16,160.90 509.00,159.93 509.84,159.41 510.68,158.86 511.53,158.47 512.37,158.73 513.21,159.09 514.05,158.52 514.90,157.81 515.74,158.40 516.58,158.55 517.42,157.99 518.26,158.12 519.11,157.38 519.95,157.88 520.79,157.60 521.63,157.81 522.47,157.33 523.32,157.16 524.16,157.04 525.00,157.47" fill="none" stroke="#8cc2ee" stroke-width="0.9" stroke-linejoin="round"/>
<rect x="370.9" y="150.2" width="154.10000000000002" height="32.0" fill="none" stroke="#8a8a8a" stroke-width="0.9"/>
<line x1="369.40" y1="182.20" x2="370.90" y2="182.20" stroke="#8a8a8a" stroke-width="0.7" />
<text x="366.60" y="184.20" font-family='"Liberation Serif", serif' font-size="6.0" font-weight="bold" text-anchor="end" fill="#000" >0</text>
<line x1="369.40" y1="174.20" x2="370.90" y2="174.20" stroke="#8a8a8a" stroke-width="0.7" />
<text x="366.60" y="176.20" font-family='"Liberation Serif", serif' font-size="6.0" font-weight="bold" text-anchor="end" fill="#000" >10</text>
<line x1="369.40" y1="166.20" x2="370.90" y2="166.20" stroke="#8a8a8a" stroke-width="0.7" />
<text x="366.60" y="168.20" font-family='"Liberation Serif", serif' font-size="6.0" font-weight="bold" text-anchor="end" fill="#000" >20</text>
<line x1="369.40" y1="158.20" x2="370.90" y2="158.20" stroke="#8a8a8a" stroke-width="0.7" />
<text x="366.60" y="160.20" font-family='"Liberation Serif", serif' font-size="6.0" font-weight="bold" text-anchor="end" fill="#000" >30</text>
<line x1="369.40" y1="150.20" x2="370.90" y2="150.20" stroke="#8a8a8a" stroke-width="0.7" />
<text x="366.60" y="152.20" font-family='"Liberation Serif", serif' font-size="6.0" font-weight="bold" text-anchor="end" fill="#000" >40</text>
<line x1="525.00" y1="182.20" x2="526.50" y2="182.20" stroke="#8a8a8a" stroke-width="0.7" />
<text x="529.60" y="184.20" font-family='"Liberation Serif", serif' font-size="6.0" font-weight="bold" text-anchor="start" fill="#000" >0</text>
<line x1="525.00" y1="175.80" x2="526.50" y2="175.80" stroke="#8a8a8a" stroke-width="0.7" />
<text x="529.60" y="177.80" font-family='"Liberation Serif", serif' font-size="6.0" font-weight="bold" text-anchor="start" fill="#000" >20</text>
<line x1="525.00" y1="169.40" x2="526.50" y2="169.40" stroke="#8a8a8a" stroke-width="0.7" />
<text x="529.60" y="171.40" font-family='"Liberation Serif", serif' font-size="6.0" font-weight="bold" text-anchor="start" fill="#000" >40</text>
<line x1="525.00" y1="163.00" x2="526.50" y2="163.00" stroke="#8a8a8a" stroke-width="0.7" />
<text x="529.60" y="165.00" font-family='"Liberation Serif", serif' font-size="6.0" font-weight="bold" text-anchor="start" fill="#000" >60</text>
<line x1="525.00" y1="156.60" x2="526.50" y2="156.60" stroke="#8a8a8a" stroke-width="0.7" />
<text x="529.60" y="158.60" font-family='"Liberation Serif", serif' font-size="6.0" font-weight="bold" text-anchor="start" fill="#000" >80</text>
<line x1="525.00" y1="150.20" x2="526.50" y2="150.20" stroke="#8a8a8a" stroke-width="0.7" />
<text x="529.60" y="152.20" font-family='"Liberation Serif", serif' font-size="6.0" font-weight="bold" text-anchor="start" fill="#000" >100</text>
<line x1="370.90" y1="182.20" x2="370.90" y2="183.80" stroke="#8a8a8a" stroke-width="0.7" />
<text x="0.00" y="0.00" font-family='"Liberation Serif", serif' font-size="7.0" font-weight="bold" text-anchor="end" fill="#000" transform="translate(373.10 189.6) rotate(-45)">Apr-1</text>
<line x1="382.75" y1="182.20" x2="382.75" y2="183.80" stroke="#8a8a8a" stroke-width="0.7" />
<text x="0.00" y="0.00" font-family='"Liberation Serif", serif' font-size="7.0" font-weight="bold" text-anchor="end" fill="#000" transform="translate(384.95 189.6) rotate(-45)">Apr-15</text>
<line x1="394.61" y1="182.20" x2="394.61" y2="183.80" stroke="#8a8a8a" stroke-width="0.7" />
<text x="0.00" y="0.00" font-family='"Liberation Serif", serif' font-size="7.0" font-weight="bold" text-anchor="end" fill="#000" transform="translate(396.81 189.6) rotate(-45)">Apr-29</text>
<line x1="406.46" y1="182.20" x2="406.46" y2="183.80" stroke="#8a8a8a" stroke-width="0.7" />
<text x="0.00" y="0.00" font-family='"Liberation Serif", serif' font-size="7.0" font-weight="bold" text-anchor="end" fill="#000" transform="translate(408.66 189.6) rotate(-45)">May-13</text>
<line x1="418.32" y1="182.20" x2="418.32" y2="183.80" stroke="#8a8a8a" stroke-width="0.7" />
<text x="0.00" y="0.00" font-family='"Liberation Serif", serif' font-size="7.0" font-weight="bold" text-anchor="end" fill="#000" transform="translate(420.52 189.6) rotate(-45)">May-27</text>
<line x1="430.17" y1="182.20" x2="430.17" y2="183.80" stroke="#8a8a8a" stroke-width="0.7" />
<text x="0.00" y="0.00" font-family='"Liberation Serif", serif' font-size="7.0" font-weight="bold" text-anchor="end" fill="#000" transform="translate(432.37 189.6) rotate(-45)">Jun-10</text>
<line x1="442.02" y1="182.20" x2="442.02" y2="183.80" stroke="#8a8a8a" stroke-width="0.7" />
<text x="0.00" y="0.00" font-family='"Liberation Serif", serif' font-size="7.0" font-weight="bold" text-anchor="end" fill="#000" transform="translate(444.22 189.6) rotate(-45)">Jun-24</text>
<line x1="453.88" y1="182.20" x2="453.88" y2="183.80" stroke="#8a8a8a" stroke-width="0.7" />
<text x="0.00" y="0.00" font-family='"Liberation Serif", serif' font-size="7.0" font-weight="bold" text-anchor="end" fill="#000" transform="translate(456.08 189.6) rotate(-45)">Jul-8</text>
<line x1="465.73" y1="182.20" x2="465.73" y2="183.80" stroke="#8a8a8a" stroke-width="0.7" />
<text x="0.00" y="0.00" font-family='"Liberation Serif", serif' font-size="7.0" font-weight="bold" text-anchor="end" fill="#000" transform="translate(467.93 189.6) rotate(-45)">Jul-22</text>
<line x1="477.58" y1="182.20" x2="477.58" y2="183.80" stroke="#8a8a8a" stroke-width="0.7" />
<text x="0.00" y="0.00" font-family='"Liberation Serif", serif' font-size="7.0" font-weight="bold" text-anchor="end" fill="#000" transform="translate(479.78 189.6) rotate(-45)">Aug-5</text>
<line x1="489.44" y1="182.20" x2="489.44" y2="183.80" stroke="#8a8a8a" stroke-width="0.7" />
<text x="0.00" y="0.00" font-family='"Liberation Serif", serif' font-size="7.0" font-weight="bold" text-anchor="end" fill="#000" transform="translate(491.64 189.6) rotate(-45)">Aug-19</text>
<line x1="501.29" y1="182.20" x2="501.29" y2="183.80" stroke="#8a8a8a" stroke-width="0.7" />
<text x="0.00" y="0.00" font-family='"Liberation Serif", serif' font-size="7.0" font-weight="bold" text-anchor="end" fill="#000" transform="translate(503.49 189.6) rotate(-45)">Sep-2</text>
<line x1="513.15" y1="182.20" x2="513.15" y2="183.80" stroke="#8a8a8a" stroke-width="0.7" />
<text x="0.00" y="0.00" font-family='"Liberation Serif", serif' font-size="7.0" font-weight="bold" text-anchor="end" fill="#000" transform="translate(515.35 189.6) rotate(-45)">Sep-16</text>
<line x1="525.00" y1="182.20" x2="525.00" y2="183.80" stroke="#8a8a8a" stroke-width="0.7" />
<text x="0.00" y="0.00" font-family='"Liberation Serif", serif' font-size="7.0" font-weight="bold" text-anchor="end" fill="#000" transform="translate(527.20 189.6) rotate(-45)">Sep-30</text>
<text x="447.50" y="211.00" font-family='"Liberation Serif", serif' font-size="7.3" font-weight="bold" text-anchor="middle" fill="#000" >DATE</text>
<text x="0.00" y="0.00" font-family='"Liberation Serif", serif' font-size="8.0" font-weight="bold" text-anchor="middle" fill="#000" transform="translate(357.0 118.5) rotate(-90)">Temperature (°C)</text>
<text x="0.00" y="0.00" font-family='"Liberation Serif", serif' font-size="7.8" font-weight="bold" text-anchor="middle" fill="#000" transform="translate(547.4 116.8) rotate(-90)">Rainfall (mm)</text>
<rect x="389.4" y="48.5" width="6.5" height="2.3" fill="#d42020"/>
<text x="396.30" y="51.60" font-family='"Liberation Serif", serif' font-size="5.67" font-weight="bold" text-anchor="start" fill="#000" >Daily rainfall</text>
<line x1="436.60" y1="49.60" x2="443.20" y2="49.60" stroke="#a8d0f4" stroke-width="1.0" />
<text x="443.90" y="51.60" font-family='"Liberation Serif", serif' font-size="5.67" font-weight="bold" text-anchor="start" fill="#000" >Daily average temperature</text>
<rect x="24.5" y="215.8" width="297.7" height="138.7" fill="#000"/>
<rect x="25.1" y="379.5" width="297.1" height="120.1" fill="#000"/>
<text x="13.60" y="224.60" font-family='"Liberation Serif", serif' font-size="12.5" font-weight="bold" text-anchor="start" fill="#000" >F</text>
<text x="11.60" y="389.20" font-family='"Liberation Serif", serif' font-size="12.5" font-weight="bold" text-anchor="start" fill="#000" >G</text>
<defs>
<filter id="speck" x="-10%" y="-10%" width="120%" height="120%">
  <feTurbulence type="fractalNoise" baseFrequency="0.9" numOctaves="2" seed="3" result="n"/>
  <feColorMatrix in="n" type="matrix" values="0 0 0 0 0.2  0 0 0 0 0.05  0 0 0 0 0.02  -1.4 0 0 0 0.8" result="dark"/>
  <feComposite in="dark" in2="SourceGraphic" operator="in" result="dk"/>
  <feColorMatrix in="n" type="matrix" values="0 0 0 0 0.85  0 0 0 0 0.52  0 0 0 0 0.3  1.5 0 0 0 -0.8" result="lite"/>
  <feComposite in="lite" in2="SourceGraphic" operator="in" result="lt"/>
  <feMerge><feMergeNode in="SourceGraphic"/><feMergeNode in="dk"/><feMergeNode in="lt"/></feMerge>
</filter>
<filter id="speck2" x="-10%" y="-10%" width="120%" height="120%">
  <feTurbulence type="fractalNoise" baseFrequency="1.3" numOctaves="1" seed="8" result="n"/>
  <feColorMatrix in="n" type="matrix" values="0 0 0 0 0.25  0 0 0 0 0.12  0 0 0 0 0.05  -1.2 0 0 0 0.7" result="dark"/>
  <feComposite in="dark" in2="SourceGraphic" operator="in" result="dk"/>
  <feColorMatrix in="n" type="matrix" values="0 0 0 0 0.85  0 0 0 0 0.7  0 0 0 0 0.45  1.0 0 0 0 -0.7" result="lite"/>
  <feComposite in="lite" in2="SourceGraphic" operator="in" result="lt"/>
  <feMerge><feMergeNode in="SourceGraphic"/><feMergeNode in="dk"/><feMergeNode in="lt"/></feMerge>
</filter>
<radialGradient id="lgfl" cx="0.5" cy="0.5" r="0.5">
  <stop offset="0.35" stop-color="#4a3420"/>
  <stop offset="0.6" stop-color="#8a6a40"/>
  <stop offset="0.85" stop-color="#a88450"/>
  <stop offset="1" stop-color="#b89058"/>
</radialGradient>
<radialGradient id="shade" cx="0.4" cy="0.38" r="0.65">
  <stop offset="0" stop-color="#fff" stop-opacity="0.06"/>
  <stop offset="0.6" stop-color="#000" stop-opacity="0"/>
  <stop offset="1" stop-color="#000" stop-opacity="0.45"/>
</radialGradient>
</defs>
<path d="M67.50,246.00 L69.10,246.00 L69.90,249.20 L66.70,249.20 Z" fill="#a08040"/>
<path d="M68.30,248.32 C71.31,247.01 75.00,249.52 75.00,256.04 C75.00,261.62 71.31,265.80 68.30,265.80 C65.28,265.80 61.60,261.62 61.60,256.04 C61.60,249.52 65.28,247.01 68.30,248.32 Z" fill="#a8bc44" filter="url(#speck)"/>
<path d="M68.30,248.32 C71.31,247.01 75.00,249.52 75.00,256.04 C75.00,261.62 71.31,265.80 68.30,265.80 C65.28,265.80 61.60,261.62 61.60,256.04 C61.60,249.52 65.28,247.01 68.30,248.32 Z" fill="url(#shade)"/>
<path d="M88.50,243.00 L90.10,243.00 L90.90,246.20 L87.70,246.20 Z" fill="#a08040"/>
<path d="M89.30,245.50 C93.58,243.98 98.80,246.90 98.80,254.46 C98.80,260.94 93.58,265.80 89.30,265.80 C85.02,265.80 79.80,260.94 79.80,254.46 C79.80,246.90 85.02,243.98 89.30,245.50 Z" fill="#98ae3e" filter="url(#speck)"/>
<path d="M89.30,245.50 C93.58,243.98 98.80,246.90 98.80,254.46 C98.80,260.94 93.58,265.80 89.30,265.80 C85.02,265.80 79.80,260.94 79.80,254.46 C79.80,246.90 85.02,243.98 89.30,245.50 Z" fill="url(#shade)"/>
<path d="M113.60,239.90 L115.20,239.90 L116.00,243.10 L112.80,243.10 Z" fill="#a08040"/>
<linearGradient id="lw114" x1="0" y1="0.2" x2="1" y2="0.8"><stop offset="0.1" stop-color="#b8c04a"/><stop offset="0.9" stop-color="#c0a848"/></linearGradient>
<path d="M114.40,242.59 C119.62,240.85 126.00,244.20 126.00,252.88 C126.00,260.32 119.62,265.90 114.40,265.90 C109.18,265.90 102.80,260.32 102.80,252.88 C102.80,244.20 109.18,240.85 114.40,242.59 Z" fill="url(#lw114)" filter="url(#speck)"/>
<path d="M114.40,242.59 C119.62,240.85 126.00,244.20 126.00,252.88 C126.00,260.32 119.62,265.90 114.40,265.90 C109.18,265.90 102.80,260.32 102.80,252.88 C102.80,244.20 109.18,240.85 114.40,242.59 Z" fill="url(#shade)"/>
<path d="M142.40,238.40 L144.00,238.40 L144.80,241.60 L141.60,241.60 Z" fill="#a08040"/>
<linearGradient id="lw143" x1="0" y1="0.2" x2="1" y2="0.8"><stop offset="0.1" stop-color="#98a040"/><stop offset="0.9" stop-color="#b84a38"/></linearGradient>
<path d="M143.20,241.21 C149.23,239.33 156.60,242.95 156.60,252.33 C156.60,260.37 149.23,266.40 143.20,266.40 C137.17,266.40 129.80,260.37 129.80,252.33 C129.80,242.95 137.17,239.33 143.20,241.21 Z" fill="url(#lw143)" filter="url(#speck)"/>
<path d="M143.20,241.21 C149.23,239.33 156.60,242.95 156.60,252.33 C156.60,260.37 149.23,266.40 143.20,266.40 C137.17,266.40 129.80,260.37 129.80,252.33 C129.80,242.95 137.17,239.33 143.20,241.21 Z" fill="url(#shade)"/>
<path d="M173.40,234.60 L175.00,234.60 L175.80,237.80 L172.60,237.80 Z" fill="#a08040"/>
<path d="M174.20,237.60 C180.72,235.50 188.70,239.55 188.70,250.05 C188.70,259.05 180.72,265.80 174.20,265.80 C167.67,265.80 159.70,259.05 159.70,250.05 C159.70,239.55 167.67,235.50 174.20,237.60 Z" fill="#c85444" filter="url(#speck)"/>
<path d="M174.20,237.60 C180.72,235.50 188.70,239.55 188.70,250.05 C188.70,259.05 180.72,265.80 174.20,265.80 C167.67,265.80 159.70,259.05 159.70,250.05 C159.70,239.55 167.67,235.50 174.20,237.60 Z" fill="url(#shade)"/>
<path d="M207.40,234.50 L209.00,234.50 L209.80,237.70 L206.60,237.70 Z" fill="#a08040"/>
<path d="M208.20,237.57 C215.31,235.39 224.00,239.60 224.00,250.52 C224.00,259.88 215.31,266.90 208.20,266.90 C201.09,266.90 192.40,259.88 192.40,250.52 C192.40,239.60 201.09,235.39 208.20,237.57 Z" fill="#c86058" filter="url(#speck)"/>
<path d="M208.20,237.57 C215.31,235.39 224.00,239.60 224.00,250.52 C224.00,259.88 215.31,266.90 208.20,266.90 C201.09,266.90 192.40,259.88 192.40,250.52 C192.40,239.60 201.09,235.39 208.20,237.57 Z" fill="url(#shade)"/>
<path d="M241.80,234.40 L243.40,234.40 L244.20,237.60 L241.00,237.60 Z" fill="#a08040"/>
<path d="M242.60,237.45 C249.80,235.29 258.60,239.45 258.60,250.23 C258.60,259.47 249.80,266.40 242.60,266.40 C235.40,266.40 226.60,259.47 226.60,250.23 C226.60,239.45 235.40,235.29 242.60,237.45 Z" fill="#b25a4a" filter="url(#speck)"/>
<path d="M242.60,237.45 C249.80,235.29 258.60,239.45 258.60,250.23 C258.60,259.47 249.80,266.40 242.60,266.40 C235.40,266.40 226.60,259.47 226.60,250.23 C226.60,239.45 235.40,235.29 242.60,237.45 Z" fill="url(#shade)"/>
<path d="M277.20,234.40 L278.80,234.40 L279.60,237.60 L276.40,237.60 Z" fill="#a08040"/>
<path d="M278.00,237.45 C285.29,235.29 294.20,239.45 294.20,250.23 C294.20,259.47 285.29,266.40 278.00,266.40 C270.71,266.40 261.80,259.47 261.80,250.23 C261.80,239.45 270.71,235.29 278.00,237.45 Z" fill="#ae544a" filter="url(#speck)"/>
<path d="M278.00,237.45 C285.29,235.29 294.20,239.45 294.20,250.23 C294.20,259.47 285.29,266.40 278.00,266.40 C270.71,266.40 261.80,259.47 261.80,250.23 C261.80,239.45 270.71,235.29 278.00,237.45 Z" fill="url(#shade)"/>
<path d="M66.70,286.70 L68.10,286.70 L68.80,290.20 L66.00,290.20 Z" fill="#8a6030"/>
<path d="M67.40,289.47 C70.23,287.99 73.70,290.85 73.70,298.27 C73.70,304.63 70.23,309.40 67.40,309.40 C64.57,309.40 61.10,304.63 61.10,298.27 C61.10,290.85 64.57,287.99 67.40,289.47 Z" fill="#98ac38"/>
<path d="M67.40,291.08 C69.52,289.82 72.10,292.25 72.10,298.55 C72.10,303.95 69.52,308.00 67.40,308.00 C65.29,308.00 62.70,303.95 62.70,298.55 C62.70,292.25 65.29,289.82 67.40,291.08 Z" fill="#c8d060"/>
<ellipse cx="67.4" cy="300.5" rx="3.0" ry="5.5" fill="#e0e090" opacity="0.7"/>
<path d="M88.60,286.00 L90.00,286.00 L90.70,289.50 L87.90,289.50 Z" fill="#8a6030"/>
<path d="M89.30,288.82 C93.44,287.28 98.50,290.25 98.50,297.95 C98.50,304.55 93.44,309.50 89.30,309.50 C85.16,309.50 80.10,304.55 80.10,297.95 C80.10,290.25 85.16,287.28 89.30,288.82 Z" fill="#aaa850"/>
<path d="M89.30,290.08 C92.90,288.70 97.30,291.35 97.30,298.21 C97.30,304.09 92.90,308.50 89.30,308.50 C85.70,308.50 81.30,304.09 81.30,298.21 C81.30,291.35 85.70,288.70 89.30,290.08 Z" fill="#cfc8a8"/>
<ellipse cx="89.50" cy="300.00" rx="5.90" ry="7.50" fill="#6a2a10" transform="rotate(6 89.50 300.00)"/>
<ellipse cx="87.73" cy="299.25" rx="1.77" ry="3.75" fill="#a05a40" opacity="0.35" transform="rotate(12 89.50 300.00)"/>
<path d="M113.90,282.50 L115.30,282.50 L116.00,286.00 L113.20,286.00 Z" fill="#8a6030"/>
<path d="M114.60,285.56 C120.00,283.74 126.60,287.25 126.60,296.35 C126.60,304.15 120.00,310.00 114.60,310.00 C109.20,310.00 102.60,304.15 102.60,296.35 C102.60,287.25 109.20,283.74 114.60,285.56 Z" fill="#b8b468"/>
<path d="M114.60,286.82 C119.46,285.16 125.40,288.35 125.40,296.61 C125.40,303.69 119.46,309.00 114.60,309.00 C109.74,309.00 103.80,303.69 103.80,296.61 C103.80,288.35 109.74,285.16 114.60,286.82 Z" fill="#cdc8b4"/>
<path d="M111.94,285.50 L117.25,285.50 L120.13,293.18 L111.87,293.18 Z" fill="#e0d0a0" opacity="0.75"/>
<ellipse cx="116.00" cy="298.70" rx="5.90" ry="6.90" fill="#50200e" transform="rotate(6 116.00 298.70)"/>
<ellipse cx="114.23" cy="298.01" rx="1.77" ry="3.45" fill="#a05a40" opacity="0.35" transform="rotate(12 116.00 298.70)"/>
<path d="M142.60,280.30 L144.00,280.30 L144.70,283.80 L141.90,283.80 Z" fill="#8a6030"/>
<path d="M143.30,283.48 C149.15,281.52 156.30,285.30 156.30,295.10 C156.30,303.50 149.15,309.80 143.30,309.80 C137.45,309.80 130.30,303.50 130.30,295.10 C130.30,285.30 137.45,281.52 143.30,283.48 Z" fill="#b08048"/>
<path d="M143.30,284.74 C148.61,282.94 155.10,286.40 155.10,295.36 C155.10,303.04 148.61,308.80 143.30,308.80 C137.99,308.80 131.50,303.04 131.50,295.36 C131.50,286.40 137.99,282.94 143.30,284.74 Z" fill="#cfcabc"/>
<path d="M140.60,283.30 L146.00,283.30 L147.70,292.12 L139.30,292.12 Z" fill="#e0d0a0" opacity="0.75"/>
<ellipse cx="143.50" cy="298.20" rx="6.00" ry="7.60" fill="#4e1c0c" transform="rotate(6 143.50 298.20)"/>
<ellipse cx="141.70" cy="297.44" rx="1.80" ry="3.80" fill="#a05a40" opacity="0.35" transform="rotate(12 143.50 298.20)"/>
<path d="M173.50,280.00 L174.90,280.00 L175.60,283.50 L172.80,283.50 Z" fill="#8a6030"/>
<path d="M174.20,283.18 C180.95,281.22 189.20,285.00 189.20,294.80 C189.20,303.20 180.95,309.50 174.20,309.50 C167.45,309.50 159.20,303.20 159.20,294.80 C159.20,285.00 167.45,281.22 174.20,283.18 Z" fill="#c84040"/>
<path d="M174.20,284.44 C180.41,282.64 188.00,286.10 188.00,295.06 C188.00,302.74 180.41,308.50 174.20,308.50 C167.99,308.50 160.40,302.74 160.40,295.06 C160.40,286.10 167.99,282.64 174.20,284.44 Z" fill="#c8b4b2"/>
<path d="M171.32,283.00 L177.08,283.00 L179.48,293.12 L170.52,293.12 Z" fill="#e0c880" opacity="0.75"/>
<ellipse cx="175.00" cy="299.20" rx="6.40" ry="7.60" fill="#52180c" transform="rotate(6 175.00 299.20)"/>
<ellipse cx="173.08" cy="298.44" rx="1.92" ry="3.80" fill="#a05a40" opacity="0.35" transform="rotate(12 175.00 299.20)"/>
<path d="M207.90,279.40 L209.30,279.40 L210.00,282.90 L207.20,282.90 Z" fill="#8a6030"/>
<path d="M208.60,282.62 C215.44,280.61 223.80,284.47 223.80,294.49 C223.80,303.06 215.44,309.50 208.60,309.50 C201.76,309.50 193.40,303.06 193.40,294.49 C193.40,284.47 201.76,280.61 208.60,282.62 Z" fill="#cc4444"/>
<path d="M208.60,283.87 C214.90,282.04 222.60,285.57 222.60,294.75 C222.60,302.60 214.90,308.50 208.60,308.50 C202.30,308.50 194.60,302.60 194.60,294.75 C194.60,285.57 202.30,282.04 208.60,283.87 Z" fill="#c8b4b2"/>
<path d="M205.76,282.40 L211.44,282.40 L212.91,292.68 L204.09,292.68 Z" fill="#e0c880" opacity="0.75"/>
<ellipse cx="208.50" cy="298.60" rx="6.30" ry="7.40" fill="#52180c" transform="rotate(6 208.50 298.60)"/>
<ellipse cx="206.61" cy="297.86" rx="1.89" ry="3.70" fill="#a05a40" opacity="0.35" transform="rotate(12 208.50 298.60)"/>
<path d="M242.30,279.40 L243.70,279.40 L244.40,282.90 L241.60,282.90 Z" fill="#8a6030"/>
<path d="M243.00,282.62 C249.66,280.61 257.80,284.47 257.80,294.49 C257.80,303.06 249.66,309.50 243.00,309.50 C236.34,309.50 228.20,303.06 228.20,294.49 C228.20,284.47 236.34,280.61 243.00,282.62 Z" fill="#cc4444"/>
<path d="M243.00,283.87 C249.12,282.04 256.60,285.57 256.60,294.75 C256.60,302.60 249.12,308.50 243.00,308.50 C236.88,308.50 229.40,302.60 229.40,294.75 C229.40,285.57 236.88,282.04 243.00,283.87 Z" fill="#c8b6b4"/>
<path d="M240.21,282.40 L245.79,282.40 L247.84,292.68 L239.16,292.68 Z" fill="#e0c880" opacity="0.75"/>
<ellipse cx="243.50" cy="298.60" rx="6.20" ry="7.40" fill="#4e160a" transform="rotate(6 243.50 298.60)"/>
<ellipse cx="241.64" cy="297.86" rx="1.86" ry="3.70" fill="#a05a40" opacity="0.35" transform="rotate(12 243.50 298.60)"/>
<path d="M278.30,279.40 L279.70,279.40 L280.40,282.90 L277.60,282.90 Z" fill="#8a6030"/>
<path d="M279.00,282.62 C285.84,280.61 294.20,284.47 294.20,294.49 C294.20,303.06 285.84,309.50 279.00,309.50 C272.16,309.50 263.80,303.06 263.80,294.49 C263.80,284.47 272.16,280.61 279.00,282.62 Z" fill="#cc4444"/>
<path d="M279.00,283.87 C285.30,282.04 293.00,285.57 293.00,294.75 C293.00,302.60 285.30,308.50 279.00,308.50 C272.70,308.50 265.00,302.60 265.00,294.75 C265.00,285.57 272.70,282.04 279.00,283.87 Z" fill="#c8b6b4"/>
<path d="M276.21,282.40 L281.79,282.40 L283.84,292.68 L275.16,292.68 Z" fill="#e0c880" opacity="0.75"/>
<ellipse cx="279.50" cy="298.60" rx="6.20" ry="7.40" fill="#4e160a" transform="rotate(6 279.50 298.60)"/>
<ellipse cx="277.64" cy="297.86" rx="1.86" ry="3.70" fill="#a05a40" opacity="0.35" transform="rotate(12 279.50 298.60)"/>
<circle cx="62.50" cy="415.70" r="7.10" fill="#a4a040" filter="url(#speck2)"/>
<circle cx="62.50" cy="415.70" r="7.10" fill="url(#shade)"/>
<circle cx="83.10" cy="415.30" r="7.00" fill="#9a6c38" filter="url(#speck2)"/>
<circle cx="83.10" cy="415.30" r="7.00" fill="url(#shade)"/>
<circle cx="104.00" cy="415.00" r="8.10" fill="#ac7c44" filter="url(#speck2)"/>
<circle cx="104.00" cy="415.00" r="8.10" fill="url(#shade)"/>
<circle cx="127.70" cy="414.00" r="9.00" fill="#b48048" filter="url(#speck2)"/>
<circle cx="127.70" cy="414.00" r="9.00" fill="url(#shade)"/>
<circle cx="155.00" cy="412.80" r="11.00" fill="#aa7c4c" filter="url(#speck2)"/>
<circle cx="155.00" cy="412.80" r="11.00" fill="url(#shade)"/>
<circle cx="184.30" cy="412.00" r="11.40" fill="#a27444" filter="url(#speck2)"/>
<circle cx="184.30" cy="412.00" r="11.40" fill="url(#shade)"/>
<circle cx="214.70" cy="412.20" r="11.70" fill="#a27648" filter="url(#speck2)"/>
<circle cx="214.70" cy="412.20" r="11.70" fill="url(#shade)"/>
<circle cx="246.60" cy="412.00" r="11.70" fill="#aa7a48" filter="url(#speck2)"/>
<circle cx="246.60" cy="412.00" r="11.70" fill="url(#shade)"/>
<circle cx="277.00" cy="411.50" r="12.50" fill="#a8784a" filter="url(#speck2)"/>
<circle cx="277.00" cy="411.50" r="12.50" fill="url(#shade)"/>
<circle cx="62.20" cy="446.70" r="7.40" fill="#c4a440"/>
<circle cx="62.20" cy="446.70" r="6.60" fill="#e6dcc8"/>
<circle cx="82.90" cy="446.50" r="7.10" fill="#a07c50"/>
<circle cx="82.90" cy="446.50" r="6.30" fill="#dcd0c0"/>
<ellipse cx="81" cy="446" rx="2" ry="1.4" fill="#c03820"/>
<circle cx="103.80" cy="446.00" r="8.50" fill="#c8a860"/>
<circle cx="103.80" cy="446.00" r="7.70" fill="url(#lgfl)"/>
<circle cx="103.20" cy="446.40" r="5.80" fill="#40081a"/>
<circle cx="102.06" cy="446.20" r="1.74" fill="#c08090" opacity="0.35"/>
<ellipse cx="104.60" cy="441.40" rx="3.19" ry="1.86" fill="#e0cc98" opacity="0.85"/>
<circle cx="127.50" cy="445.80" r="8.80" fill="#c8a460"/>
<circle cx="127.50" cy="445.80" r="8.00" fill="url(#lgfl)"/>
<circle cx="126.90" cy="446.20" r="5.80" fill="#40081a"/>
<circle cx="125.76" cy="446.00" r="1.74" fill="#c08090" opacity="0.35"/>
<ellipse cx="128.30" cy="441.20" rx="3.19" ry="1.86" fill="#e0cc98" opacity="0.85"/>
<circle cx="155.20" cy="444.40" r="11.40" fill="#c0a060"/>
<circle cx="155.20" cy="444.40" r="10.60" fill="url(#lgfl)"/>
<circle cx="154.60" cy="444.80" r="5.80" fill="#38081a"/>
<circle cx="153.46" cy="444.60" r="1.74" fill="#c08090" opacity="0.35"/>
<ellipse cx="156.00" cy="439.80" rx="3.19" ry="1.86" fill="#e0cc98" opacity="0.85"/>
<circle cx="184.30" cy="441.50" r="11.50" fill="#b89058"/>
<circle cx="184.30" cy="441.50" r="10.70" fill="url(#lgfl)"/>
<circle cx="183.70" cy="441.90" r="5.60" fill="#38081a"/>
<circle cx="182.62" cy="441.70" r="1.68" fill="#c08090" opacity="0.35"/>
<ellipse cx="185.10" cy="437.10" rx="3.08" ry="1.79" fill="#e0cc98" opacity="0.85"/>
<circle cx="215.00" cy="441.50" r="11.50" fill="#b88e56"/>
<circle cx="215.00" cy="441.50" r="10.70" fill="url(#lgfl)"/>
<circle cx="214.40" cy="441.90" r="5.60" fill="#38081a"/>
<circle cx="213.32" cy="441.70" r="1.68" fill="#c08090" opacity="0.35"/>
<ellipse cx="215.80" cy="437.10" rx="3.08" ry="1.79" fill="#e0cc98" opacity="0.85"/>
<circle cx="246.50" cy="441.50" r="11.50" fill="#bc9258"/>
<circle cx="246.50" cy="441.50" r="10.70" fill="url(#lgfl)"/>
<circle cx="245.90" cy="441.90" r="5.60" fill="#38081a"/>
<circle cx="244.82" cy="441.70" r="1.68" fill="#c08090" opacity="0.35"/>
<ellipse cx="247.30" cy="437.10" rx="3.08" ry="1.79" fill="#e0cc98" opacity="0.85"/>
<circle cx="277.30" cy="441.30" r="11.80" fill="#bc9258"/>
<circle cx="277.30" cy="441.30" r="11.00" fill="url(#lgfl)"/>
<circle cx="276.70" cy="441.70" r="5.60" fill="#38081a"/>
<circle cx="275.62" cy="441.50" r="1.68" fill="#c08090" opacity="0.35"/>
<ellipse cx="278.10" cy="436.90" rx="3.08" ry="1.79" fill="#e0cc98" opacity="0.85"/>
<text x="0.00" y="0.00" font-family='"Liberation Sans", sans-serif' font-size="6.6" font-weight="bold" text-anchor="start" fill="#f4f4f4" transform="translate(32.00 322.90) scale(0.9 1)">DATE</text>
<text x="0.00" y="0.00" font-family='"Liberation Sans", sans-serif' font-size="6.6" font-weight="bold" text-anchor="start" fill="#f4f4f4" transform="translate(32.00 336.60) scale(0.9 1)">DAA (d)</text>
<text x="0.00" y="0.00" font-family='"Liberation Sans", sans-serif' font-size="6.6" font-weight="bold" text-anchor="middle" fill="#f4f4f4" transform="translate(65.90 322.90) scale(0.9 1)">May-21</text>
<text x="0.00" y="0.00" font-family='"Liberation Sans", sans-serif' font-size="6.6" font-weight="bold" text-anchor="middle" fill="#f4f4f4" transform="translate(65.90 336.60) scale(0.9 1)">52</text>
<text x="0.00" y="0.00" font-family='"Liberation Sans", sans-serif' font-size="6.6" font-weight="bold" text-anchor="middle" fill="#f4f4f4" transform="translate(91.30 322.90) scale(0.9 1)">May-28</text>
<text x="0.00" y="0.00" font-family='"Liberation Sans", sans-serif' font-size="6.6" font-weight="bold" text-anchor="middle" fill="#f4f4f4" transform="translate(91.30 336.60) scale(0.9 1)">59</text>
<text x="0.00" y="0.00" font-family='"Liberation Sans", sans-serif' font-size="6.6" font-weight="bold" text-anchor="middle" fill="#f4f4f4" transform="translate(114.90 322.90) scale(0.9 1)">Jun-4</text>
<text x="0.00" y="0.00" font-family='"Liberation Sans", sans-serif' font-size="6.6" font-weight="bold" text-anchor="middle" fill="#f4f4f4" transform="translate(114.90 336.60) scale(0.9 1)">66</text>
<text x="0.00" y="0.00" font-family='"Liberation Sans", sans-serif' font-size="6.6" font-weight="bold" text-anchor="middle" fill="#f4f4f4" transform="translate(142.80 322.90) scale(0.9 1)">Jun-11</text>
<text x="0.00" y="0.00" font-family='"Liberation Sans", sans-serif' font-size="6.6" font-weight="bold" text-anchor="middle" fill="#f4f4f4" transform="translate(142.80 336.60) scale(0.9 1)">73</text>
<text x="0.00" y="0.00" font-family='"Liberation Sans", sans-serif' font-size="6.6" font-weight="bold" text-anchor="middle" fill="#f4f4f4" transform="translate(173.70 322.90) scale(0.9 1)">Jun-18</text>
<text x="0.00" y="0.00" font-family='"Liberation Sans", sans-serif' font-size="6.6" font-weight="bold" text-anchor="middle" fill="#f4f4f4" transform="translate(173.70 336.60) scale(0.9 1)">80</text>
<text x="0.00" y="0.00" font-family='"Liberation Sans", sans-serif' font-size="6.6" font-weight="bold" text-anchor="middle" fill="#f4f4f4" transform="translate(208.00 322.90) scale(0.9 1)">Jun-25</text>
<text x="0.00" y="0.00" font-family='"Liberation Sans", sans-serif' font-size="6.6" font-weight="bold" text-anchor="middle" fill="#f4f4f4" transform="translate(208.00 336.60) scale(0.9 1)">87</text>
<text x="0.00" y="0.00" font-family='"Liberation Sans", sans-serif' font-size="6.6" font-weight="bold" text-anchor="middle" fill="#f4f4f4" transform="translate(243.00 322.90) scale(0.9 1)">Jul-2</text>
<text x="0.00" y="0.00" font-family='"Liberation Sans", sans-serif' font-size="6.6" font-weight="bold" text-anchor="middle" fill="#f4f4f4" transform="translate(243.00 336.60) scale(0.9 1)">94</text>
<text x="0.00" y="0.00" font-family='"Liberation Sans", sans-serif' font-size="6.6" font-weight="bold" text-anchor="middle" fill="#f4f4f4" transform="translate(278.50 322.90) scale(0.9 1)">Jul-9</text>
<text x="0.00" y="0.00" font-family='"Liberation Sans", sans-serif' font-size="6.6" font-weight="bold" text-anchor="middle" fill="#f4f4f4" transform="translate(278.50 336.60) scale(0.9 1)">101</text>
<text x="0.00" y="0.00" font-family='"Liberation Sans", sans-serif' font-size="6.6" font-weight="bold" text-anchor="start" fill="#f4f4f4" transform="translate(32.60 469.10) scale(0.9 1)">DATE</text>
<text x="0.00" y="0.00" font-family='"Liberation Sans", sans-serif' font-size="6.6" font-weight="bold" text-anchor="start" fill="#f4f4f4" transform="translate(32.60 480.60) scale(0.9 1)">DAA (d)</text>
<text x="0.00" y="0.00" font-family='"Liberation Sans", sans-serif' font-size="6.6" font-weight="bold" text-anchor="middle" fill="#f4f4f4" transform="translate(62.60 469.10) scale(0.9 1)">Jun-18</text>
<text x="0.00" y="0.00" font-family='"Liberation Sans", sans-serif' font-size="6.6" font-weight="bold" text-anchor="middle" fill="#f4f4f4" transform="translate(62.60 480.60) scale(0.9 1)">61</text>
<text x="0.00" y="0.00" font-family='"Liberation Sans", sans-serif' font-size="6.6" font-weight="bold" text-anchor="middle" fill="#f4f4f4" transform="translate(83.00 469.10) scale(0.9 1)">Jun-25</text>
<text x="0.00" y="0.00" font-family='"Liberation Sans", sans-serif' font-size="6.6" font-weight="bold" text-anchor="middle" fill="#f4f4f4" transform="translate(83.00 480.60) scale(0.9 1)">68</text>
<text x="0.00" y="0.00" font-family='"Liberation Sans", sans-serif' font-size="6.6" font-weight="bold" text-anchor="middle" fill="#f4f4f4" transform="translate(104.00 469.10) scale(0.9 1)">Jul-2</text>
<text x="0.00" y="0.00" font-family='"Liberation Sans", sans-serif' font-size="6.6" font-weight="bold" text-anchor="middle" fill="#f4f4f4" transform="translate(104.00 480.60) scale(0.9 1)">75</text>
<text x="0.00" y="0.00" font-family='"Liberation Sans", sans-serif' font-size="6.6" font-weight="bold" text-anchor="middle" fill="#f4f4f4" transform="translate(127.30 469.10) scale(0.9 1)">Jul-16</text>
<text x="0.00" y="0.00" font-family='"Liberation Sans", sans-serif' font-size="6.6" font-weight="bold" text-anchor="middle" fill="#f4f4f4" transform="translate(127.30 480.60) scale(0.9 1)">89</text>
<text x="0.00" y="0.00" font-family='"Liberation Sans", sans-serif' font-size="6.6" font-weight="bold" text-anchor="middle" fill="#f4f4f4" transform="translate(155.40 469.10) scale(0.9 1)">Jul-30</text>
<text x="0.00" y="0.00" font-family='"Liberation Sans", sans-serif' font-size="6.6" font-weight="bold" text-anchor="middle" fill="#f4f4f4" transform="translate(155.40 480.60) scale(0.9 1)">103</text>
<text x="0.00" y="0.00" font-family='"Liberation Sans", sans-serif' font-size="6.6" font-weight="bold" text-anchor="middle" fill="#f4f4f4" transform="translate(184.50 469.10) scale(0.9 1)">Aug-13</text>
<text x="0.00" y="0.00" font-family='"Liberation Sans", sans-serif' font-size="6.6" font-weight="bold" text-anchor="middle" fill="#f4f4f4" transform="translate(184.50 480.60) scale(0.9 1)">117</text>
<text x="0.00" y="0.00" font-family='"Liberation Sans", sans-serif' font-size="6.6" font-weight="bold" text-anchor="middle" fill="#f4f4f4" transform="translate(215.00 469.10) scale(0.9 1)">Aug-24</text>
<text x="0.00" y="0.00" font-family='"Liberation Sans", sans-serif' font-size="6.6" font-weight="bold" text-anchor="middle" fill="#f4f4f4" transform="translate(215.00 480.60) scale(0.9 1)">131</text>
<text x="0.00" y="0.00" font-family='"Liberation Sans", sans-serif' font-size="6.6" font-weight="bold" text-anchor="middle" fill="#f4f4f4" transform="translate(246.50 469.10) scale(0.9 1)">Sep-10</text>
<text x="0.00" y="0.00" font-family='"Liberation Sans", sans-serif' font-size="6.6" font-weight="bold" text-anchor="middle" fill="#f4f4f4" transform="translate(246.50 480.60) scale(0.9 1)">145</text>
<text x="0.00" y="0.00" font-family='"Liberation Sans", sans-serif' font-size="6.6" font-weight="bold" text-anchor="middle" fill="#f4f4f4" transform="translate(277.00 469.10) scale(0.9 1)">Sep-24</text>
<text x="0.00" y="0.00" font-family='"Liberation Sans", sans-serif' font-size="6.6" font-weight="bold" text-anchor="middle" fill="#f4f4f4" transform="translate(277.00 480.60) scale(0.9 1)">159</text>
<text x="294.50" y="315.50" font-family='"Liberation Sans", sans-serif' font-size="4.8" font-weight="bold" text-anchor="middle" fill="#f2f2f2" >1 cm</text>
<line x1="290.00" y1="317.60" x2="299.00" y2="317.60" stroke="#bbb" stroke-width="0.5" />
<text x="293.80" y="455.50" font-family='"Liberation Sans", sans-serif' font-size="4.8" font-weight="bold" text-anchor="middle" fill="#f2f2f2" >1 cm</text>
<line x1="289.50" y1="457.80" x2="298.50" y2="457.80" stroke="#bbb" stroke-width="0.5" />
<text x="349.50" y="225.20" font-family='"Liberation Serif", serif' font-size="11.5" font-weight="bold" text-anchor="start" fill="#000" >H</text>
<polyline points="389.50,323.63 407.35,305.53 425.20,287.06 443.05,259.54 460.90,241.44 478.75,247.10 496.60,247.10 514.45,246.72" fill="none" stroke="#1a1a1a" stroke-width="1.3" stroke-linejoin="round"/>
<line x1="389.50" y1="320.24" x2="389.50" y2="327.02" stroke="#1a1a1a" stroke-width="0.8" />
<line x1="388.40" y1="320.24" x2="390.60" y2="320.24" stroke="#1a1a1a" stroke-width="1.1" />
<line x1="388.40" y1="327.02" x2="390.60" y2="327.02" stroke="#1a1a1a" stroke-width="1.1" />
<line x1="407.35" y1="303.27" x2="407.35" y2="307.79" stroke="#1a1a1a" stroke-width="0.8" />
<line x1="406.25" y1="303.27" x2="408.45" y2="303.27" stroke="#1a1a1a" stroke-width="1.1" />
<line x1="406.25" y1="307.79" x2="408.45" y2="307.79" stroke="#1a1a1a" stroke-width="1.1" />
<line x1="425.20" y1="283.29" x2="425.20" y2="290.83" stroke="#1a1a1a" stroke-width="0.8" />
<line x1="424.10" y1="283.29" x2="426.30" y2="283.29" stroke="#1a1a1a" stroke-width="1.1" />
<line x1="424.10" y1="290.83" x2="426.30" y2="290.83" stroke="#1a1a1a" stroke-width="1.1" />
<line x1="443.05" y1="255.77" x2="443.05" y2="263.31" stroke="#1a1a1a" stroke-width="0.8" />
<line x1="441.95" y1="255.77" x2="444.15" y2="255.77" stroke="#1a1a1a" stroke-width="1.1" />
<line x1="441.95" y1="263.31" x2="444.15" y2="263.31" stroke="#1a1a1a" stroke-width="1.1" />
<line x1="460.90" y1="237.30" x2="460.90" y2="245.59" stroke="#1a1a1a" stroke-width="0.8" />
<line x1="459.80" y1="237.30" x2="462.00" y2="237.30" stroke="#1a1a1a" stroke-width="1.1" />
<line x1="459.80" y1="245.59" x2="462.00" y2="245.59" stroke="#1a1a1a" stroke-width="1.1" />
<line x1="478.75" y1="242.95" x2="478.75" y2="251.24" stroke="#1a1a1a" stroke-width="0.8" />
<line x1="477.65" y1="242.95" x2="479.85" y2="242.95" stroke="#1a1a1a" stroke-width="1.1" />
<line x1="477.65" y1="251.24" x2="479.85" y2="251.24" stroke="#1a1a1a" stroke-width="1.1" />
<line x1="496.60" y1="243.33" x2="496.60" y2="250.87" stroke="#1a1a1a" stroke-width="0.8" />
<line x1="495.50" y1="243.33" x2="497.70" y2="243.33" stroke="#1a1a1a" stroke-width="1.1" />
<line x1="495.50" y1="250.87" x2="497.70" y2="250.87" stroke="#1a1a1a" stroke-width="1.1" />
<line x1="514.45" y1="242.95" x2="514.45" y2="250.49" stroke="#1a1a1a" stroke-width="0.8" />
<line x1="513.35" y1="242.95" x2="515.55" y2="242.95" stroke="#1a1a1a" stroke-width="1.1" />
<line x1="513.35" y1="250.49" x2="515.55" y2="250.49" stroke="#1a1a1a" stroke-width="1.1" />
<rect x="388.20" y="322.33" width="2.60" height="2.60" fill="#fff" stroke="#1a1a1a" stroke-width="0.5"/>
<rect x="406.05" y="304.23" width="2.60" height="2.60" fill="#fff" stroke="#1a1a1a" stroke-width="0.5"/>
<rect x="423.90" y="285.76" width="2.60" height="2.60" fill="#fff" stroke="#1a1a1a" stroke-width="0.5"/>
<rect x="441.75" y="258.24" width="2.60" height="2.60" fill="#fff" stroke="#1a1a1a" stroke-width="0.5"/>
<rect x="459.60" y="240.14" width="2.60" height="2.60" fill="#fff" stroke="#1a1a1a" stroke-width="0.5"/>
<rect x="477.45" y="245.80" width="2.60" height="2.60" fill="#fff" stroke="#1a1a1a" stroke-width="0.5"/>
<rect x="495.30" y="245.80" width="2.60" height="2.60" fill="#fff" stroke="#1a1a1a" stroke-width="0.5"/>
<rect x="513.15" y="245.42" width="2.60" height="2.60" fill="#fff" stroke="#1a1a1a" stroke-width="0.5"/>
<polyline points="389.50,334.75 407.35,323.63 425.20,308.55 443.05,282.91 460.90,269.34 478.75,275.37 496.60,276.50 514.45,276.13" fill="none" stroke="#f01818" stroke-width="1.3" stroke-linejoin="round"/>
<line x1="389.50" y1="333.24" x2="389.50" y2="336.26" stroke="#f01818" stroke-width="0.8" />
<line x1="388.40" y1="333.24" x2="390.60" y2="333.24" stroke="#f01818" stroke-width="1.1" />
<line x1="388.40" y1="336.26" x2="390.60" y2="336.26" stroke="#f01818" stroke-width="1.1" />
<line x1="407.35" y1="321.37" x2="407.35" y2="325.89" stroke="#f01818" stroke-width="0.8" />
<line x1="406.25" y1="321.37" x2="408.45" y2="321.37" stroke="#f01818" stroke-width="1.1" />
<line x1="406.25" y1="325.89" x2="408.45" y2="325.89" stroke="#f01818" stroke-width="1.1" />
<line x1="425.20" y1="304.78" x2="425.20" y2="312.32" stroke="#f01818" stroke-width="0.8" />
<line x1="424.10" y1="304.78" x2="426.30" y2="304.78" stroke="#f01818" stroke-width="1.1" />
<line x1="424.10" y1="312.32" x2="426.30" y2="312.32" stroke="#f01818" stroke-width="1.1" />
<line x1="443.05" y1="278.76" x2="443.05" y2="287.06" stroke="#f01818" stroke-width="0.8" />
<line x1="441.95" y1="278.76" x2="444.15" y2="278.76" stroke="#f01818" stroke-width="1.1" />
<line x1="441.95" y1="287.06" x2="444.15" y2="287.06" stroke="#f01818" stroke-width="1.1" />
<line x1="460.90" y1="264.82" x2="460.90" y2="273.86" stroke="#f01818" stroke-width="0.8" />
<line x1="459.80" y1="264.82" x2="462.00" y2="264.82" stroke="#f01818" stroke-width="1.1" />
<line x1="459.80" y1="273.86" x2="462.00" y2="273.86" stroke="#f01818" stroke-width="1.1" />
<line x1="478.75" y1="271.23" x2="478.75" y2="279.52" stroke="#f01818" stroke-width="0.8" />
<line x1="477.65" y1="271.23" x2="479.85" y2="271.23" stroke="#f01818" stroke-width="1.1" />
<line x1="477.65" y1="279.52" x2="479.85" y2="279.52" stroke="#f01818" stroke-width="1.1" />
<line x1="496.60" y1="272.36" x2="496.60" y2="280.65" stroke="#f01818" stroke-width="0.8" />
<line x1="495.50" y1="272.36" x2="497.70" y2="272.36" stroke="#f01818" stroke-width="1.1" />
<line x1="495.50" y1="280.65" x2="497.70" y2="280.65" stroke="#f01818" stroke-width="1.1" />
<line x1="514.45" y1="272.36" x2="514.45" y2="279.90" stroke="#f01818" stroke-width="0.8" />
<line x1="513.35" y1="272.36" x2="515.55" y2="272.36" stroke="#f01818" stroke-width="1.1" />
<line x1="513.35" y1="279.90" x2="515.55" y2="279.90" stroke="#f01818" stroke-width="1.1" />
<circle cx="389.50" cy="334.75" r="1.90" fill="#f01818"/>
<circle cx="407.35" cy="323.63" r="1.90" fill="#f01818"/>
<circle cx="425.20" cy="308.55" r="1.90" fill="#f01818"/>
<circle cx="443.05" cy="282.91" r="1.90" fill="#f01818"/>
<circle cx="460.90" cy="269.34" r="1.90" fill="#f01818"/>
<circle cx="478.75" cy="275.37" r="1.90" fill="#f01818"/>
<circle cx="496.60" cy="276.50" r="1.90" fill="#f01818"/>
<circle cx="514.45" cy="276.13" r="1.90" fill="#f01818"/>
<polyline points="389.50,330.04 407.35,325.89 425.20,325.51 443.05,322.87 460.90,319.10 478.75,317.97 496.60,316.46 514.45,316.84" fill="none" stroke="#1a2cf0" stroke-width="1.3" stroke-linejoin="round"/>
<line x1="389.50" y1="328.53" x2="389.50" y2="331.54" stroke="#1a2cf0" stroke-width="0.8" />
<line x1="388.40" y1="328.53" x2="390.60" y2="328.53" stroke="#1a2cf0" stroke-width="1.1" />
<line x1="388.40" y1="331.54" x2="390.60" y2="331.54" stroke="#1a2cf0" stroke-width="1.1" />
<line x1="407.35" y1="324.00" x2="407.35" y2="327.77" stroke="#1a2cf0" stroke-width="0.8" />
<line x1="406.25" y1="324.00" x2="408.45" y2="324.00" stroke="#1a2cf0" stroke-width="1.1" />
<line x1="406.25" y1="327.77" x2="408.45" y2="327.77" stroke="#1a2cf0" stroke-width="1.1" />
<line x1="425.20" y1="323.25" x2="425.20" y2="327.77" stroke="#1a2cf0" stroke-width="0.8" />
<line x1="424.10" y1="323.25" x2="426.30" y2="323.25" stroke="#1a2cf0" stroke-width="1.1" />
<line x1="424.10" y1="327.77" x2="426.30" y2="327.77" stroke="#1a2cf0" stroke-width="1.1" />
<line x1="443.05" y1="321.37" x2="443.05" y2="324.38" stroke="#1a2cf0" stroke-width="0.8" />
<line x1="441.95" y1="321.37" x2="444.15" y2="321.37" stroke="#1a2cf0" stroke-width="1.1" />
<line x1="441.95" y1="324.38" x2="444.15" y2="324.38" stroke="#1a2cf0" stroke-width="1.1" />
<line x1="460.90" y1="317.60" x2="460.90" y2="320.61" stroke="#1a2cf0" stroke-width="0.8" />
<line x1="459.80" y1="317.60" x2="462.00" y2="317.60" stroke="#1a2cf0" stroke-width="1.1" />
<line x1="459.80" y1="320.61" x2="462.00" y2="320.61" stroke="#1a2cf0" stroke-width="1.1" />
<line x1="478.75" y1="316.09" x2="478.75" y2="319.86" stroke="#1a2cf0" stroke-width="0.8" />
<line x1="477.65" y1="316.09" x2="479.85" y2="316.09" stroke="#1a2cf0" stroke-width="1.1" />
<line x1="477.65" y1="319.86" x2="479.85" y2="319.86" stroke="#1a2cf0" stroke-width="1.1" />
<line x1="496.60" y1="315.33" x2="496.60" y2="317.60" stroke="#1a2cf0" stroke-width="0.8" />
<line x1="495.50" y1="315.33" x2="497.70" y2="315.33" stroke="#1a2cf0" stroke-width="1.1" />
<line x1="495.50" y1="317.60" x2="497.70" y2="317.60" stroke="#1a2cf0" stroke-width="1.1" />
<line x1="514.45" y1="315.33" x2="514.45" y2="318.35" stroke="#1a2cf0" stroke-width="0.8" />
<line x1="513.35" y1="315.33" x2="515.55" y2="315.33" stroke="#1a2cf0" stroke-width="1.1" />
<line x1="513.35" y1="318.35" x2="515.55" y2="318.35" stroke="#1a2cf0" stroke-width="1.1" />
<circle cx="389.50" cy="330.04" r="1.60" fill="#fff" stroke="#1a2cf0" stroke-width="0.8"/>
<circle cx="407.35" cy="325.89" r="1.60" fill="#fff" stroke="#1a2cf0" stroke-width="0.8"/>
<circle cx="425.20" cy="325.51" r="1.60" fill="#fff" stroke="#1a2cf0" stroke-width="0.8"/>
<circle cx="443.05" cy="322.87" r="1.60" fill="#fff" stroke="#1a2cf0" stroke-width="0.8"/>
<circle cx="460.90" cy="319.10" r="1.60" fill="#fff" stroke="#1a2cf0" stroke-width="0.8"/>
<circle cx="478.75" cy="317.97" r="1.60" fill="#fff" stroke="#1a2cf0" stroke-width="0.8"/>
<circle cx="496.60" cy="316.46" r="1.60" fill="#fff" stroke="#1a2cf0" stroke-width="0.8"/>
<circle cx="514.45" cy="316.84" r="1.60" fill="#fff" stroke="#1a2cf0" stroke-width="0.8"/>
<polyline points="389.50,331.92 407.35,327.40 425.20,327.77 443.05,326.64 460.90,326.64 478.75,327.02 496.60,328.15 514.45,327.40" fill="none" stroke="#8c8c8c" stroke-width="1.1" stroke-linejoin="round"/>
<line x1="407.35" y1="326.27" x2="407.35" y2="328.53" stroke="#8c8c8c" stroke-width="0.8" />
<line x1="406.25" y1="326.27" x2="408.45" y2="326.27" stroke="#8c8c8c" stroke-width="1.1" />
<line x1="406.25" y1="328.53" x2="408.45" y2="328.53" stroke="#8c8c8c" stroke-width="1.1" />
<line x1="425.20" y1="326.64" x2="425.20" y2="328.91" stroke="#8c8c8c" stroke-width="0.8" />
<line x1="424.10" y1="326.64" x2="426.30" y2="326.64" stroke="#8c8c8c" stroke-width="1.1" />
<line x1="424.10" y1="328.91" x2="426.30" y2="328.91" stroke="#8c8c8c" stroke-width="1.1" />
<path d="M389.50,330.12 L391.20,333.12 L387.80,333.12 Z" fill="#8c8c8c"/>
<path d="M407.35,325.60 L409.05,328.60 L405.65,328.60 Z" fill="#8c8c8c"/>
<path d="M425.20,325.97 L426.90,328.97 L423.50,328.97 Z" fill="#8c8c8c"/>
<path d="M443.05,324.84 L444.75,327.84 L441.35,327.84 Z" fill="#8c8c8c"/>
<path d="M460.90,324.84 L462.60,327.84 L459.20,327.84 Z" fill="#8c8c8c"/>
<path d="M478.75,325.22 L480.45,328.22 L477.05,328.22 Z" fill="#8c8c8c"/>
<path d="M496.60,326.35 L498.30,329.35 L494.90,329.35 Z" fill="#8c8c8c"/>
<path d="M514.45,325.60 L516.15,328.60 L512.75,328.60 Z" fill="#8c8c8c"/>
<text x="390.00" y="317.40" font-family='"Liberation Serif", serif' font-size="9.0" font-weight="normal" text-anchor="middle" fill="#1a1a1a" >f</text>
<text x="407.50" y="298.70" font-family='"Liberation Serif", serif' font-size="9.0" font-weight="normal" text-anchor="middle" fill="#1a1a1a" >e</text>
<text x="425.50" y="280.90" font-family='"Liberation Serif", serif' font-size="9.0" font-weight="normal" text-anchor="middle" fill="#1a1a1a" >d</text>
<text x="443.20" y="253.70" font-family='"Liberation Serif", serif' font-size="9.0" font-weight="normal" text-anchor="middle" fill="#1a1a1a" >c</text>
<text x="460.60" y="234.60" font-family='"Liberation Serif", serif' font-size="9.0" font-weight="normal" text-anchor="middle" fill="#1a1a1a" >a</text>
<text x="478.60" y="240.70" font-family='"Liberation Serif", serif' font-size="9.0" font-weight="normal" text-anchor="middle" fill="#1a1a1a" >b</text>
<text x="496.60" y="240.70" font-family='"Liberation Serif", serif' font-size="9.0" font-weight="normal" text-anchor="middle" fill="#1a1a1a" >b</text>
<text x="514.40" y="239.70" font-family='"Liberation Serif", serif' font-size="9.0" font-weight="normal" text-anchor="middle" fill="#1a1a1a" >b</text>
<text x="385.50" y="331.80" font-family='"Liberation Serif", serif' font-size="9.0" font-weight="normal" text-anchor="middle" fill="#f01818" >f</text>
<text x="403.80" y="321.60" font-family='"Liberation Serif", serif' font-size="9.0" font-weight="normal" text-anchor="middle" fill="#f01818" >e</text>
<text x="421.60" y="305.50" font-family='"Liberation Serif", serif' font-size="9.0" font-weight="normal" text-anchor="middle" fill="#f01818" >d</text>
<text x="439.40" y="280.10" font-family='"Liberation Serif", serif' font-size="9.0" font-weight="normal" text-anchor="middle" fill="#f01818" >c</text>
<text x="457.20" y="266.50" font-family='"Liberation Serif", serif' font-size="9.0" font-weight="normal" text-anchor="middle" fill="#f01818" >a</text>
<text x="475.20" y="272.70" font-family='"Liberation Serif", serif' font-size="9.0" font-weight="normal" text-anchor="middle" fill="#f01818" >b</text>
<text x="493.00" y="273.70" font-family='"Liberation Serif", serif' font-size="9.0" font-weight="normal" text-anchor="middle" fill="#f01818" >b</text>
<text x="511.00" y="273.70" font-family='"Liberation Serif", serif' font-size="9.0" font-weight="normal" text-anchor="middle" fill="#f01818" >b</text>
<text x="392.30" y="327.50" font-family='"Liberation Serif", serif' font-size="9.0" font-weight="normal" text-anchor="middle" fill="#1a2cf0" >g</text>
<text x="409.70" y="322.50" font-family='"Liberation Serif", serif' font-size="9.0" font-weight="normal" text-anchor="middle" fill="#1a2cf0" >c</text>
<text x="427.50" y="322.50" font-family='"Liberation Serif", serif' font-size="9.0" font-weight="normal" text-anchor="middle" fill="#1a2cf0" >c</text>
<text x="445.30" y="320.80" font-family='"Liberation Serif", serif' font-size="9.0" font-weight="normal" text-anchor="middle" fill="#1a2cf0" >d</text>
<text x="462.50" y="316.70" font-family='"Liberation Serif", serif' font-size="9.0" font-weight="normal" text-anchor="middle" fill="#1a2cf0" >c</text>
<text x="480.80" y="315.20" font-family='"Liberation Serif", serif' font-size="9.0" font-weight="normal" text-anchor="middle" fill="#1a2cf0" >b</text>
<text x="496.60" y="312.60" font-family='"Liberation Serif", serif' font-size="9.0" font-weight="normal" text-anchor="middle" fill="#1a2cf0" >a</text>
<text x="516.20" y="313.70" font-family='"Liberation Serif", serif' font-size="9.0" font-weight="normal" text-anchor="middle" fill="#1a2cf0" >a</text>
<text x="391.00" y="340.70" font-family='"Liberation Serif", serif' font-size="9.0" font-weight="normal" text-anchor="middle" fill="#8c8c8c" >c</text>
<text x="409.70" y="336.00" font-family='"Liberation Serif", serif' font-size="9.0" font-weight="normal" text-anchor="middle" fill="#8c8c8c" >b</text>
<text x="425.50" y="336.00" font-family='"Liberation Serif", serif' font-size="9.0" font-weight="normal" text-anchor="middle" fill="#8c8c8c" >b</text>
<text x="443.20" y="336.00" font-family='"Liberation Serif", serif' font-size="9.0" font-weight="normal" text-anchor="middle" fill="#8c8c8c" >a</text>
<text x="460.60" y="336.00" font-family='"Liberation Serif", serif' font-size="9.0" font-weight="normal" text-anchor="middle" fill="#8c8c8c" >a</text>
<text x="478.60" y="336.00" font-family='"Liberation Serif", serif' font-size="9.0" font-weight="normal" text-anchor="middle" fill="#8c8c8c" >b</text>
<text x="496.60" y="336.40" font-family='"Liberation Serif", serif' font-size="9.0" font-weight="normal" text-anchor="middle" fill="#8c8c8c" >b</text>
<text x="514.40" y="336.00" font-family='"Liberation Serif", serif' font-size="9.0" font-weight="normal" text-anchor="middle" fill="#8c8c8c" >b</text>
<rect x="372.4" y="224.1" width="152.0" height="121.29999999999998" fill="none" stroke="#383838" stroke-width="1.9"/>
<line x1="370.20" y1="337.20" x2="372.40" y2="337.20" stroke="#2a2a2a" stroke-width="0.9" />
<text x="369.40" y="340.20" font-family='"Liberation Serif", serif' font-size="9.0" font-weight="normal" text-anchor="end" fill="#222" >0</text>
<line x1="370.20" y1="318.35" x2="372.40" y2="318.35" stroke="#2a2a2a" stroke-width="0.9" />
<text x="369.40" y="321.35" font-family='"Liberation Serif", serif' font-size="9.0" font-weight="normal" text-anchor="end" fill="#222" >5</text>
<line x1="370.20" y1="299.50" x2="372.40" y2="299.50" stroke="#2a2a2a" stroke-width="0.9" />
<text x="369.40" y="302.50" font-family='"Liberation Serif", serif' font-size="9.0" font-weight="normal" text-anchor="end" fill="#222" >10</text>
<line x1="370.20" y1="280.65" x2="372.40" y2="280.65" stroke="#2a2a2a" stroke-width="0.9" />
<text x="369.40" y="283.65" font-family='"Liberation Serif", serif' font-size="9.0" font-weight="normal" text-anchor="end" fill="#222" >15</text>
<line x1="370.20" y1="261.80" x2="372.40" y2="261.80" stroke="#2a2a2a" stroke-width="0.9" />
<text x="369.40" y="264.80" font-family='"Liberation Serif", serif' font-size="9.0" font-weight="normal" text-anchor="end" fill="#222" >20</text>
<line x1="370.20" y1="242.95" x2="372.40" y2="242.95" stroke="#2a2a2a" stroke-width="0.9" />
<text x="369.40" y="245.95" font-family='"Liberation Serif", serif' font-size="9.0" font-weight="normal" text-anchor="end" fill="#222" >25</text>
<line x1="370.20" y1="224.10" x2="372.40" y2="224.10" stroke="#2a2a2a" stroke-width="0.9" />
<text x="369.40" y="227.10" font-family='"Liberation Serif", serif' font-size="9.0" font-weight="normal" text-anchor="end" fill="#222" >30</text>
<line x1="389.50" y1="345.40" x2="389.50" y2="347.60" stroke="#2a2a2a" stroke-width="0.9" />
<text x="389.50" y="355.90" font-family='"Liberation Serif", serif' font-size="9.0" font-weight="normal" text-anchor="middle" fill="#222" >52</text>
<line x1="407.35" y1="345.40" x2="407.35" y2="347.60" stroke="#2a2a2a" stroke-width="0.9" />
<text x="407.35" y="355.90" font-family='"Liberation Serif", serif' font-size="9.0" font-weight="normal" text-anchor="middle" fill="#222" >59</text>
<line x1="425.20" y1="345.40" x2="425.20" y2="347.60" stroke="#2a2a2a" stroke-width="0.9" />
<text x="425.20" y="355.90" font-family='"Liberation Serif", serif' font-size="9.0" font-weight="normal" text-anchor="middle" fill="#222" >66</text>
<line x1="443.05" y1="345.40" x2="443.05" y2="347.60" stroke="#2a2a2a" stroke-width="0.9" />
<text x="443.05" y="355.90" font-family='"Liberation Serif", serif' font-size="9.0" font-weight="normal" text-anchor="middle" fill="#222" >73</text>
<line x1="460.90" y1="345.40" x2="460.90" y2="347.60" stroke="#2a2a2a" stroke-width="0.9" />
<text x="460.90" y="355.90" font-family='"Liberation Serif", serif' font-size="9.0" font-weight="normal" text-anchor="middle" fill="#222" >80</text>
<line x1="478.75" y1="345.40" x2="478.75" y2="347.60" stroke="#2a2a2a" stroke-width="0.9" />
<text x="478.75" y="355.90" font-family='"Liberation Serif", serif' font-size="9.0" font-weight="normal" text-anchor="middle" fill="#222" >87</text>
<line x1="496.60" y1="345.40" x2="496.60" y2="347.60" stroke="#2a2a2a" stroke-width="0.9" />
<text x="496.60" y="355.90" font-family='"Liberation Serif", serif' font-size="9.0" font-weight="normal" text-anchor="middle" fill="#222" >94</text>
<line x1="514.45" y1="345.40" x2="514.45" y2="347.60" stroke="#2a2a2a" stroke-width="0.9" />
<text x="514.45" y="355.90" font-family='"Liberation Serif", serif' font-size="9.0" font-weight="normal" text-anchor="middle" fill="#222" >101</text>
<text x="448.20" y="370.60" font-family='"Liberation Serif", serif' font-size="9.6" font-weight="normal" text-anchor="middle" fill="#222" >DAA (d)</text>
<text x="0.00" y="0.00" font-family='"Liberation Serif", serif' font-size="9.7" font-weight="normal" text-anchor="middle" fill="#222" transform="translate(359.2 284.4) rotate(-90)">Weight (g)</text>
<line x1="376.40" y1="232.70" x2="395.40" y2="232.70" stroke="#1a1a1a" stroke-width="1.3" />
<rect x="384.40" y="231.20" width="2.99" height="2.99" fill="#fff" stroke="#1a1a1a" stroke-width="0.5"/>
<text x="397.90" y="235.70" font-family='"Liberation Serif", serif' font-size="9.1" font-weight="normal" text-anchor="start" fill="#222" >Fruit</text>
<line x1="376.40" y1="243.10" x2="395.40" y2="243.10" stroke="#f01818" stroke-width="1.3" />
<circle cx="385.90" cy="243.10" r="2.18" fill="#f01818"/>
<text x="397.90" y="246.10" font-family='"Liberation Serif", serif' font-size="9.1" font-weight="normal" text-anchor="start" fill="#222" >Aril</text>
<line x1="376.40" y1="253.50" x2="395.40" y2="253.50" stroke="#1a2cf0" stroke-width="1.3" />
<circle cx="385.90" cy="253.50" r="1.84" fill="#fff" stroke="#1a2cf0" stroke-width="0.8"/>
<text x="397.90" y="256.50" font-family='"Liberation Serif", serif' font-size="9.1" font-weight="normal" text-anchor="start" fill="#222" >Pericarp</text>
<line x1="376.40" y1="263.90" x2="395.40" y2="263.90" stroke="#8c8c8c" stroke-width="1.3" />
<path d="M385.90,261.83 L387.85,265.28 L383.94,265.28 Z" fill="#8c8c8c"/>
<text x="397.90" y="266.90" font-family='"Liberation Serif", serif' font-size="9.1" font-weight="normal" text-anchor="start" fill="#222" >Seed</text>
<text x="351.50" y="388.60" font-family='"Liberation Serif", serif' font-size="11.5" font-weight="bold" text-anchor="start" fill="#000" >I</text>
<polyline points="384.20,475.04 400.50,469.07 416.80,459.98 433.10,443.50 449.40,422.67 465.70,412.73 482.00,400.41 498.30,403.26 514.60,404.20" fill="none" stroke="#1a1a1a" stroke-width="1.3" stroke-linejoin="round"/>
<line x1="384.20" y1="474.09" x2="384.20" y2="475.99" stroke="#1a1a1a" stroke-width="0.8" />
<line x1="383.10" y1="474.09" x2="385.30" y2="474.09" stroke="#1a1a1a" stroke-width="1.1" />
<line x1="383.10" y1="475.99" x2="385.30" y2="475.99" stroke="#1a1a1a" stroke-width="1.1" />
<line x1="433.10" y1="442.56" x2="433.10" y2="444.45" stroke="#1a1a1a" stroke-width="0.8" />
<line x1="432.00" y1="442.56" x2="434.20" y2="442.56" stroke="#1a1a1a" stroke-width="1.1" />
<line x1="432.00" y1="444.45" x2="434.20" y2="444.45" stroke="#1a1a1a" stroke-width="1.1" />
<line x1="449.40" y1="421.72" x2="449.40" y2="423.62" stroke="#1a1a1a" stroke-width="0.8" />
<line x1="448.30" y1="421.72" x2="450.50" y2="421.72" stroke="#1a1a1a" stroke-width="1.1" />
<line x1="448.30" y1="423.62" x2="450.50" y2="423.62" stroke="#1a1a1a" stroke-width="1.1" />
<line x1="465.70" y1="411.78" x2="465.70" y2="413.67" stroke="#1a1a1a" stroke-width="0.8" />
<line x1="464.60" y1="411.78" x2="466.80" y2="411.78" stroke="#1a1a1a" stroke-width="1.1" />
<line x1="464.60" y1="413.67" x2="466.80" y2="413.67" stroke="#1a1a1a" stroke-width="1.1" />
<line x1="482.00" y1="399.47" x2="482.00" y2="401.36" stroke="#1a1a1a" stroke-width="0.8" />
<line x1="480.90" y1="399.47" x2="483.10" y2="399.47" stroke="#1a1a1a" stroke-width="1.1" />
<line x1="480.90" y1="401.36" x2="483.10" y2="401.36" stroke="#1a1a1a" stroke-width="1.1" />
<line x1="498.30" y1="401.36" x2="498.30" y2="405.15" stroke="#1a1a1a" stroke-width="0.8" />
<line x1="497.20" y1="401.36" x2="499.40" y2="401.36" stroke="#1a1a1a" stroke-width="1.1" />
<line x1="497.20" y1="405.15" x2="499.40" y2="405.15" stroke="#1a1a1a" stroke-width="1.1" />
<line x1="514.60" y1="403.26" x2="514.60" y2="405.15" stroke="#1a1a1a" stroke-width="0.8" />
<line x1="513.50" y1="403.26" x2="515.70" y2="403.26" stroke="#1a1a1a" stroke-width="1.1" />
<line x1="513.50" y1="405.15" x2="515.70" y2="405.15" stroke="#1a1a1a" stroke-width="1.1" />
<rect x="383.16" y="474.00" width="2.08" height="2.08" fill="#fff" stroke="#1a1a1a" stroke-width="0.5"/>
<rect x="399.46" y="468.03" width="2.08" height="2.08" fill="#fff" stroke="#1a1a1a" stroke-width="0.5"/>
<rect x="415.76" y="458.94" width="2.08" height="2.08" fill="#fff" stroke="#1a1a1a" stroke-width="0.5"/>
<rect x="432.06" y="442.46" width="2.08" height="2.08" fill="#fff" stroke="#1a1a1a" stroke-width="0.5"/>
<rect x="448.36" y="421.63" width="2.08" height="2.08" fill="#fff" stroke="#1a1a1a" stroke-width="0.5"/>
<rect x="464.66" y="411.69" width="2.08" height="2.08" fill="#fff" stroke="#1a1a1a" stroke-width="0.5"/>
<rect x="480.96" y="399.37" width="2.08" height="2.08" fill="#fff" stroke="#1a1a1a" stroke-width="0.5"/>
<rect x="497.26" y="402.22" width="2.08" height="2.08" fill="#fff" stroke="#1a1a1a" stroke-width="0.5"/>
<rect x="513.56" y="403.16" width="2.08" height="2.08" fill="#fff" stroke="#1a1a1a" stroke-width="0.5"/>
<polyline points="384.20,487.82 400.50,485.83 416.80,481.38 433.10,466.04 449.40,446.34 465.70,440.19 482.00,426.93 498.30,427.40 514.60,428.35" fill="none" stroke="#f01818" stroke-width="1.3" stroke-linejoin="round"/>
<line x1="482.00" y1="425.98" x2="482.00" y2="427.88" stroke="#f01818" stroke-width="0.8" />
<line x1="480.90" y1="425.98" x2="483.10" y2="425.98" stroke="#f01818" stroke-width="1.1" />
<line x1="480.90" y1="427.88" x2="483.10" y2="427.88" stroke="#f01818" stroke-width="1.1" />
<circle cx="384.20" cy="487.82" r="1.52" fill="#f01818"/>
<circle cx="400.50" cy="485.83" r="1.52" fill="#f01818"/>
<circle cx="416.80" cy="481.38" r="1.52" fill="#f01818"/>
<circle cx="433.10" cy="466.04" r="1.52" fill="#f01818"/>
<circle cx="449.40" cy="446.34" r="1.52" fill="#f01818"/>
<circle cx="465.70" cy="440.19" r="1.52" fill="#f01818"/>
<circle cx="482.00" cy="426.93" r="1.52" fill="#f01818"/>
<circle cx="498.30" cy="427.40" r="1.52" fill="#f01818"/>
<circle cx="514.60" cy="428.35" r="1.52" fill="#f01818"/>
<polyline points="384.20,485.93 400.50,484.70 416.80,481.86 433.10,480.91 449.40,479.49 465.70,476.17 482.00,478.83 498.30,480.44 514.60,480.44" fill="none" stroke="#1a2cf0" stroke-width="1.3" stroke-linejoin="round"/>
<line x1="384.20" y1="484.98" x2="384.20" y2="486.88" stroke="#1a2cf0" stroke-width="0.8" />
<line x1="383.10" y1="484.98" x2="385.30" y2="484.98" stroke="#1a2cf0" stroke-width="1.1" />
<line x1="383.10" y1="486.88" x2="385.30" y2="486.88" stroke="#1a2cf0" stroke-width="1.1" />
<line x1="400.50" y1="483.75" x2="400.50" y2="485.64" stroke="#1a2cf0" stroke-width="0.8" />
<line x1="399.40" y1="483.75" x2="401.60" y2="483.75" stroke="#1a2cf0" stroke-width="1.1" />
<line x1="399.40" y1="485.64" x2="401.60" y2="485.64" stroke="#1a2cf0" stroke-width="1.1" />
<line x1="416.80" y1="480.91" x2="416.80" y2="482.80" stroke="#1a2cf0" stroke-width="0.8" />
<line x1="415.70" y1="480.91" x2="417.90" y2="480.91" stroke="#1a2cf0" stroke-width="1.1" />
<line x1="415.70" y1="482.80" x2="417.90" y2="482.80" stroke="#1a2cf0" stroke-width="1.1" />
<line x1="433.10" y1="479.49" x2="433.10" y2="482.33" stroke="#1a2cf0" stroke-width="0.8" />
<line x1="432.00" y1="479.49" x2="434.20" y2="479.49" stroke="#1a2cf0" stroke-width="1.1" />
<line x1="432.00" y1="482.33" x2="434.20" y2="482.33" stroke="#1a2cf0" stroke-width="1.1" />
<line x1="449.40" y1="478.07" x2="449.40" y2="480.91" stroke="#1a2cf0" stroke-width="0.8" />
<line x1="448.30" y1="478.07" x2="450.50" y2="478.07" stroke="#1a2cf0" stroke-width="1.1" />
<line x1="448.30" y1="480.91" x2="450.50" y2="480.91" stroke="#1a2cf0" stroke-width="1.1" />
<line x1="465.70" y1="474.47" x2="465.70" y2="477.88" stroke="#1a2cf0" stroke-width="0.8" />
<line x1="464.60" y1="474.47" x2="466.80" y2="474.47" stroke="#1a2cf0" stroke-width="1.1" />
<line x1="464.60" y1="477.88" x2="466.80" y2="477.88" stroke="#1a2cf0" stroke-width="1.1" />
<line x1="482.00" y1="474.09" x2="482.00" y2="483.56" stroke="#1a2cf0" stroke-width="0.8" />
<line x1="480.90" y1="474.09" x2="483.10" y2="474.09" stroke="#1a2cf0" stroke-width="1.1" />
<line x1="480.90" y1="483.56" x2="483.10" y2="483.56" stroke="#1a2cf0" stroke-width="1.1" />
<line x1="498.30" y1="479.30" x2="498.30" y2="481.57" stroke="#1a2cf0" stroke-width="0.8" />
<line x1="497.20" y1="479.30" x2="499.40" y2="479.30" stroke="#1a2cf0" stroke-width="1.1" />
<line x1="497.20" y1="481.57" x2="499.40" y2="481.57" stroke="#1a2cf0" stroke-width="1.1" />
<line x1="514.60" y1="479.49" x2="514.60" y2="481.38" stroke="#1a2cf0" stroke-width="0.8" />
<line x1="513.50" y1="479.49" x2="515.70" y2="479.49" stroke="#1a2cf0" stroke-width="1.1" />
<line x1="513.50" y1="481.38" x2="515.70" y2="481.38" stroke="#1a2cf0" stroke-width="1.1" />
<circle cx="384.20" cy="485.93" r="1.28" fill="#fff" stroke="#1a2cf0" stroke-width="0.8"/>
<circle cx="400.50" cy="484.70" r="1.28" fill="#fff" stroke="#1a2cf0" stroke-width="0.8"/>
<circle cx="416.80" cy="481.86" r="1.28" fill="#fff" stroke="#1a2cf0" stroke-width="0.8"/>
<circle cx="433.10" cy="480.91" r="1.28" fill="#fff" stroke="#1a2cf0" stroke-width="0.8"/>
<circle cx="449.40" cy="479.49" r="1.28" fill="#fff" stroke="#1a2cf0" stroke-width="0.8"/>
<circle cx="465.70" cy="476.17" r="1.28" fill="#fff" stroke="#1a2cf0" stroke-width="0.8"/>
<circle cx="482.00" cy="478.83" r="1.28" fill="#fff" stroke="#1a2cf0" stroke-width="0.8"/>
<circle cx="498.30" cy="480.44" r="1.28" fill="#fff" stroke="#1a2cf0" stroke-width="0.8"/>
<circle cx="514.60" cy="480.44" r="1.28" fill="#fff" stroke="#1a2cf0" stroke-width="0.8"/>
<polyline points="384.20,484.98 400.50,483.47 416.80,481.38 433.10,480.91 449.40,481.38 465.70,480.44 482.00,478.35 498.30,480.25 514.60,480.25" fill="none" stroke="#8c8c8c" stroke-width="1.1" stroke-linejoin="round"/>
<path d="M384.20,483.54 L385.56,485.94 L382.84,485.94 Z" fill="#8c8c8c"/>
<path d="M400.50,482.03 L401.86,484.43 L399.14,484.43 Z" fill="#8c8c8c"/>
<path d="M416.80,479.94 L418.16,482.34 L415.44,482.34 Z" fill="#8c8c8c"/>
<path d="M433.10,479.47 L434.46,481.87 L431.74,481.87 Z" fill="#8c8c8c"/>
<path d="M449.40,479.94 L450.76,482.34 L448.04,482.34 Z" fill="#8c8c8c"/>
<path d="M465.70,479.00 L467.06,481.40 L464.34,481.40 Z" fill="#8c8c8c"/>
<path d="M482.00,476.91 L483.36,479.31 L480.64,479.31 Z" fill="#8c8c8c"/>
<path d="M498.30,478.81 L499.66,481.21 L496.94,481.21 Z" fill="#8c8c8c"/>
<path d="M514.60,478.81 L515.96,481.21 L513.24,481.21 Z" fill="#8c8c8c"/>
<text x="384.30" y="471.00" font-family='"Liberation Serif", serif' font-size="9.0" font-weight="normal" text-anchor="middle" fill="#1a1a1a" >h</text>
<text x="400.60" y="465.40" font-family='"Liberation Serif", serif' font-size="9.0" font-weight="normal" text-anchor="middle" fill="#1a1a1a" >g</text>
<text x="416.40" y="454.40" font-family='"Liberation Serif", serif' font-size="9.0" font-weight="normal" text-anchor="middle" fill="#1a1a1a" >f</text>
<text x="433.00" y="439.60" font-family='"Liberation Serif", serif' font-size="9.0" font-weight="normal" text-anchor="middle" fill="#1a1a1a" >e</text>
<text x="449.00" y="417.70" font-family='"Liberation Serif", serif' font-size="9.0" font-weight="normal" text-anchor="middle" fill="#1a1a1a" >d</text>
<text x="465.40" y="407.00" font-family='"Liberation Serif", serif' font-size="9.0" font-weight="normal" text-anchor="middle" fill="#1a1a1a" >c</text>
<text x="482.00" y="394.40" font-family='"Liberation Serif", serif' font-size="9.0" font-weight="normal" text-anchor="middle" fill="#1a1a1a" >a</text>
<text x="498.40" y="397.20" font-family='"Liberation Serif", serif' font-size="9.0" font-weight="normal" text-anchor="middle" fill="#1a1a1a" >b</text>
<text x="514.60" y="397.70" font-family='"Liberation Serif", serif' font-size="9.0" font-weight="normal" text-anchor="middle" fill="#1a1a1a" >b</text>
<text x="387.00" y="482.80" font-family='"Liberation Serif", serif' font-size="9.0" font-weight="normal" text-anchor="middle" fill="#f01818" >g</text>
<text x="402.90" y="479.80" font-family='"Liberation Serif", serif' font-size="9.0" font-weight="normal" text-anchor="middle" fill="#f01818" >f</text>
<text x="418.70" y="475.50" font-family='"Liberation Serif", serif' font-size="9.0" font-weight="normal" text-anchor="middle" fill="#f01818" >c</text>
<text x="433.00" y="462.70" font-family='"Liberation Serif", serif' font-size="9.0" font-weight="normal" text-anchor="middle" fill="#f01818" >d</text>
<text x="448.80" y="443.20" font-family='"Liberation Serif", serif' font-size="9.0" font-weight="normal" text-anchor="middle" fill="#f01818" >c</text>
<text x="465.40" y="435.40" font-family='"Liberation Serif", serif' font-size="9.0" font-weight="normal" text-anchor="middle" fill="#f01818" >b</text>
<text x="482.00" y="422.80" font-family='"Liberation Serif", serif' font-size="9.0" font-weight="normal" text-anchor="middle" fill="#f01818" >a</text>
<text x="498.20" y="423.00" font-family='"Liberation Serif", serif' font-size="9.0" font-weight="normal" text-anchor="middle" fill="#f01818" >a</text>
<text x="514.40" y="424.00" font-family='"Liberation Serif", serif' font-size="9.0" font-weight="normal" text-anchor="middle" fill="#f01818" >a</text>
<text x="381.00" y="488.00" font-family='"Liberation Serif", serif' font-size="9.0" font-weight="normal" text-anchor="middle" fill="#1a2cf0" >g</text>
<text x="397.60" y="483.00" font-family='"Liberation Serif", serif' font-size="9.0" font-weight="normal" text-anchor="middle" fill="#1a2cf0" >b</text>
<text x="414.90" y="480.00" font-family='"Liberation Serif", serif' font-size="9.0" font-weight="normal" text-anchor="middle" fill="#1a2cf0" >c</text>
<text x="433.70" y="477.00" font-family='"Liberation Serif", serif' font-size="9.0" font-weight="normal" text-anchor="middle" fill="#1a2cf0" >d</text>
<text x="449.50" y="475.50" font-family='"Liberation Serif", serif' font-size="9.0" font-weight="normal" text-anchor="middle" fill="#1a2cf0" >b</text>
<text x="466.00" y="470.80" font-family='"Liberation Serif", serif' font-size="9.0" font-weight="normal" text-anchor="middle" fill="#1a2cf0" >a</text>
<text x="482.00" y="472.20" font-family='"Liberation Serif", serif' font-size="9.0" font-weight="normal" text-anchor="middle" fill="#1a2cf0" >b</text>
<text x="499.20" y="475.40" font-family='"Liberation Serif", serif' font-size="9.0" font-weight="normal" text-anchor="middle" fill="#1a2cf0" >c</text>
<text x="515.20" y="475.40" font-family='"Liberation Serif", serif' font-size="9.0" font-weight="normal" text-anchor="middle" fill="#1a2cf0" >c</text>
<text x="385.50" y="494.40" font-family='"Liberation Serif", serif' font-size="9.0" font-weight="normal" text-anchor="middle" fill="#8c8c8c" >f</text>
<text x="402.10" y="492.00" font-family='"Liberation Serif", serif' font-size="9.0" font-weight="normal" text-anchor="middle" fill="#8c8c8c" >e</text>
<text x="418.70" y="489.80" font-family='"Liberation Serif", serif' font-size="9.0" font-weight="normal" text-anchor="middle" fill="#8c8c8c" >c</text>
<text x="436.70" y="489.80" font-family='"Liberation Serif", serif' font-size="9.0" font-weight="normal" text-anchor="middle" fill="#8c8c8c" >cd</text>
<text x="451.00" y="490.40" font-family='"Liberation Serif", serif' font-size="9.0" font-weight="normal" text-anchor="middle" fill="#8c8c8c" >d</text>
<text x="466.00" y="489.40" font-family='"Liberation Serif", serif' font-size="9.0" font-weight="normal" text-anchor="middle" fill="#8c8c8c" >c</text>
<text x="482.00" y="490.80" font-family='"Liberation Serif", serif' font-size="9.0" font-weight="normal" text-anchor="middle" fill="#8c8c8c" >a</text>
<text x="498.20" y="490.20" font-family='"Liberation Serif", serif' font-size="9.0" font-weight="normal" text-anchor="middle" fill="#8c8c8c" >b</text>
<text x="514.40" y="490.20" font-family='"Liberation Serif", serif' font-size="9.0" font-weight="normal" text-anchor="middle" fill="#8c8c8c" >b</text>
<rect x="371.8" y="378.3" width="152.59999999999997" height="123.0" fill="none" stroke="#383838" stroke-width="1.9"/>
<line x1="369.60" y1="491.80" x2="371.80" y2="491.80" stroke="#2a2a2a" stroke-width="0.9" />
<text x="368.80" y="494.80" font-family='"Liberation Serif", serif' font-size="9.0" font-weight="normal" text-anchor="end" fill="#222" >0</text>
<line x1="369.60" y1="472.86" x2="371.80" y2="472.86" stroke="#2a2a2a" stroke-width="0.9" />
<text x="368.80" y="475.86" font-family='"Liberation Serif", serif' font-size="9.0" font-weight="normal" text-anchor="end" fill="#222" >2</text>
<line x1="369.60" y1="453.92" x2="371.80" y2="453.92" stroke="#2a2a2a" stroke-width="0.9" />
<text x="368.80" y="456.92" font-family='"Liberation Serif", serif' font-size="9.0" font-weight="normal" text-anchor="end" fill="#222" >4</text>
<line x1="369.60" y1="434.98" x2="371.80" y2="434.98" stroke="#2a2a2a" stroke-width="0.9" />
<text x="368.80" y="437.98" font-family='"Liberation Serif", serif' font-size="9.0" font-weight="normal" text-anchor="end" fill="#222" >6</text>
<line x1="369.60" y1="416.04" x2="371.80" y2="416.04" stroke="#2a2a2a" stroke-width="0.9" />
<text x="368.80" y="419.04" font-family='"Liberation Serif", serif' font-size="9.0" font-weight="normal" text-anchor="end" fill="#222" >8</text>
<line x1="369.60" y1="397.10" x2="371.80" y2="397.10" stroke="#2a2a2a" stroke-width="0.9" />
<text x="368.80" y="400.10" font-family='"Liberation Serif", serif' font-size="9.0" font-weight="normal" text-anchor="end" fill="#222" >10</text>
<line x1="369.60" y1="378.16" x2="371.80" y2="378.16" stroke="#2a2a2a" stroke-width="0.9" />
<text x="368.80" y="381.16" font-family='"Liberation Serif", serif' font-size="9.0" font-weight="normal" text-anchor="end" fill="#222" >12</text>
<line x1="384.20" y1="501.30" x2="384.20" y2="503.50" stroke="#2a2a2a" stroke-width="0.9" />
<text x="384.20" y="511.80" font-family='"Liberation Serif", serif' font-size="9.0" font-weight="normal" text-anchor="middle" fill="#222" >61</text>
<line x1="400.50" y1="501.30" x2="400.50" y2="503.50" stroke="#2a2a2a" stroke-width="0.9" />
<text x="400.50" y="511.80" font-family='"Liberation Serif", serif' font-size="9.0" font-weight="normal" text-anchor="middle" fill="#222" >68</text>
<line x1="416.80" y1="501.30" x2="416.80" y2="503.50" stroke="#2a2a2a" stroke-width="0.9" />
<text x="416.80" y="511.80" font-family='"Liberation Serif", serif' font-size="9.0" font-weight="normal" text-anchor="middle" fill="#222" >75</text>
<line x1="433.10" y1="501.30" x2="433.10" y2="503.50" stroke="#2a2a2a" stroke-width="0.9" />
<text x="433.10" y="511.80" font-family='"Liberation Serif", serif' font-size="9.0" font-weight="normal" text-anchor="middle" fill="#222" >89</text>
<line x1="449.40" y1="501.30" x2="449.40" y2="503.50" stroke="#2a2a2a" stroke-width="0.9" />
<text x="449.40" y="511.80" font-family='"Liberation Serif", serif' font-size="9.0" font-weight="normal" text-anchor="middle" fill="#222" >103</text>
<line x1="465.70" y1="501.30" x2="465.70" y2="503.50" stroke="#2a2a2a" stroke-width="0.9" />
<text x="465.70" y="511.80" font-family='"Liberation Serif", serif' font-size="9.0" font-weight="normal" text-anchor="middle" fill="#222" >117</text>
<line x1="482.00" y1="501.30" x2="482.00" y2="503.50" stroke="#2a2a2a" stroke-width="0.9" />
<text x="482.00" y="511.80" font-family='"Liberation Serif", serif' font-size="9.0" font-weight="normal" text-anchor="middle" fill="#222" >131</text>
<line x1="498.30" y1="501.30" x2="498.30" y2="503.50" stroke="#2a2a2a" stroke-width="0.9" />
<text x="498.30" y="511.80" font-family='"Liberation Serif", serif' font-size="9.0" font-weight="normal" text-anchor="middle" fill="#222" >145</text>
<line x1="514.60" y1="501.30" x2="514.60" y2="503.50" stroke="#2a2a2a" stroke-width="0.9" />
<text x="514.60" y="511.80" font-family='"Liberation Serif", serif' font-size="9.0" font-weight="normal" text-anchor="middle" fill="#222" >159</text>
<text x="448.20" y="526.80" font-family='"Liberation Serif", serif' font-size="9.6" font-weight="normal" text-anchor="middle" fill="#222" >DAA (d)</text>
<text x="0.00" y="0.00" font-family='"Liberation Serif", serif' font-size="9.7" font-weight="normal" text-anchor="middle" fill="#222" transform="translate(359.2 445.0) rotate(-90)">Weight (g)</text>
<line x1="375.80" y1="386.90" x2="394.80" y2="386.90" stroke="#1a1a1a" stroke-width="1.3" />
<rect x="383.81" y="385.41" width="2.99" height="2.99" fill="#fff" stroke="#1a1a1a" stroke-width="0.5"/>
<text x="397.30" y="389.90" font-family='"Liberation Serif", serif' font-size="9.1" font-weight="normal" text-anchor="start" fill="#222" >Fruit</text>
<line x1="375.80" y1="397.30" x2="394.80" y2="397.30" stroke="#f01818" stroke-width="1.3" />
<circle cx="385.30" cy="397.30" r="2.18" fill="#f01818"/>
<text x="397.30" y="400.30" font-family='"Liberation Serif", serif' font-size="9.1" font-weight="normal" text-anchor="start" fill="#222" >Aril</text>
<line x1="375.80" y1="407.70" x2="394.80" y2="407.70" stroke="#1a2cf0" stroke-width="1.3" />
<circle cx="385.30" cy="407.70" r="1.84" fill="#fff" stroke="#1a2cf0" stroke-width="0.8"/>
<text x="397.30" y="410.70" font-family='"Liberation Serif", serif' font-size="9.1" font-weight="normal" text-anchor="start" fill="#222" >Pericarp</text>
<line x1="375.80" y1="418.10" x2="394.80" y2="418.10" stroke="#8c8c8c" stroke-width="1.3" />
<path d="M385.30,416.03 L387.25,419.48 L383.35,419.48 Z" fill="#8c8c8c"/>
<text x="397.30" y="421.10" font-family='"Liberation Serif", serif' font-size="9.1" font-weight="normal" text-anchor="start" fill="#222" >Seed</text>
</svg></body></html>
